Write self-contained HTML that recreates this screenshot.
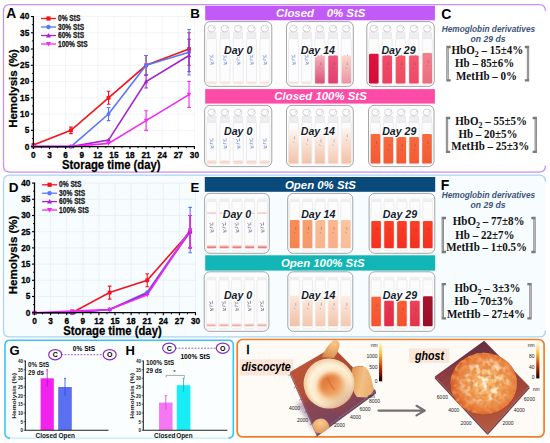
<!DOCTYPE html>
<html><head><meta charset="utf-8"><title>Figure</title>
<style>
html,body{margin:0;padding:0;background:#fff;}
#root{position:relative;width:550px;height:443px;overflow:hidden;background:#fff;font-family:"Liberation Sans",sans-serif;}
</style></head><body><div id="root">
<svg width="550" height="443" viewBox="0 0 550 443" style="position:absolute;left:0;top:0">
<defs><linearGradient id="gfc3e24f43020" x1="0" y1="0" x2="0" y2="1"><stop offset="0" stop-color="#fc3e24"/><stop offset="1" stop-color="#f43020"/></linearGradient><linearGradient id="gf9a070f79868" x1="0" y1="0" x2="0" y2="1"><stop offset="0" stop-color="#f9a070"/><stop offset="1" stop-color="#f79868"/></linearGradient><linearGradient id="gfceceaf0948c" x1="0" y1="0" x2="0" y2="1"><stop offset="0" stop-color="#fcecea"/><stop offset="1" stop-color="#f0948c"/></linearGradient><linearGradient id="gfbe8dcf2c0a8" x1="0" y1="0" x2="0" y2="1"><stop offset="0" stop-color="#fbe8dc"/><stop offset="1" stop-color="#f2c0a8"/></linearGradient><linearGradient id="gfdf6f2f4c8b0" x1="0" y1="0" x2="0" y2="1"><stop offset="0" stop-color="#fdf6f2"/><stop offset="1" stop-color="#f4c8b0"/></linearGradient><linearGradient id="gee4058e4344c" x1="0" y1="0" x2="0" y2="1"><stop offset="0" stop-color="#ee4058"/><stop offset="1" stop-color="#e4344c"/></linearGradient><linearGradient id="gfc6238f45430" x1="0" y1="0" x2="0" y2="1"><stop offset="0" stop-color="#fc6238"/><stop offset="1" stop-color="#f45430"/></linearGradient><linearGradient id="gea3850e02c44" x1="0" y1="0" x2="0" y2="1"><stop offset="0" stop-color="#ea3850"/><stop offset="1" stop-color="#e02c44"/></linearGradient><linearGradient id="ga8122e980c28" x1="0" y1="0" x2="0" y2="1"><stop offset="0" stop-color="#a8122e"/><stop offset="1" stop-color="#980c28"/></linearGradient><linearGradient id="gfbe4e2e25a5a" x1="0" y1="0" x2="0" y2="1"><stop offset="0" stop-color="#fbe4e2"/><stop offset="1" stop-color="#e25a5a"/></linearGradient><linearGradient id="gf45868ec4c60" x1="0" y1="0" x2="0" y2="1"><stop offset="0" stop-color="#f45868"/><stop offset="1" stop-color="#ec4c60"/></linearGradient><linearGradient id="gfbb690f9ae88" x1="0" y1="0" x2="0" y2="1"><stop offset="0" stop-color="#fbb690"/><stop offset="1" stop-color="#f9ae88"/></linearGradient><linearGradient id="gf4b4bcdc5074" x1="0" y1="0" x2="0" y2="1"><stop offset="0" stop-color="#f4b4bc"/><stop offset="1" stop-color="#dc5074"/></linearGradient><linearGradient id="gfa6a3ef25a32" x1="0" y1="0" x2="0" y2="1"><stop offset="0" stop-color="#fa6a3e"/><stop offset="1" stop-color="#f25a32"/></linearGradient><linearGradient id="gfbbc94f9b48c" x1="0" y1="0" x2="0" y2="1"><stop offset="0" stop-color="#fbbc94"/><stop offset="1" stop-color="#f9b48c"/></linearGradient><linearGradient id="gfcefe6f4c8b2" x1="0" y1="0" x2="0" y2="1"><stop offset="0" stop-color="#fcefe6"/><stop offset="1" stop-color="#f4c8b2"/></linearGradient><linearGradient id="gfdf6f2f3c0a6" x1="0" y1="0" x2="0" y2="1"><stop offset="0" stop-color="#fdf6f2"/><stop offset="1" stop-color="#f3c0a6"/></linearGradient><linearGradient id="gf44a6aec3e60" x1="0" y1="0" x2="0" y2="1"><stop offset="0" stop-color="#f44a6a"/><stop offset="1" stop-color="#ec3e60"/></linearGradient><linearGradient id="gec5a7ee04070" x1="0" y1="0" x2="0" y2="1"><stop offset="0" stop-color="#ec5a7e"/><stop offset="1" stop-color="#e04070"/></linearGradient><linearGradient id="gfdf6f2f3c2a8" x1="0" y1="0" x2="0" y2="1"><stop offset="0" stop-color="#fdf6f2"/><stop offset="1" stop-color="#f3c2a8"/></linearGradient><linearGradient id="gfbebe0f2c2aa" x1="0" y1="0" x2="0" y2="1"><stop offset="0" stop-color="#fbebe0"/><stop offset="1" stop-color="#f2c2aa"/></linearGradient><linearGradient id="gfcc4a0fabc98" x1="0" y1="0" x2="0" y2="1"><stop offset="0" stop-color="#fcc4a0"/><stop offset="1" stop-color="#fabc98"/></linearGradient><linearGradient id="gf98c58f68650" x1="0" y1="0" x2="0" y2="1"><stop offset="0" stop-color="#f98c58"/><stop offset="1" stop-color="#f68650"/></linearGradient><linearGradient id="gfcefe6f4cab4" x1="0" y1="0" x2="0" y2="1"><stop offset="0" stop-color="#fcefe6"/><stop offset="1" stop-color="#f4cab4"/></linearGradient><linearGradient id="gf45670ec4a66" x1="0" y1="0" x2="0" y2="1"><stop offset="0" stop-color="#f45670"/><stop offset="1" stop-color="#ec4a66"/></linearGradient><linearGradient id="ge0123ed40c38" x1="0" y1="0" x2="0" y2="1"><stop offset="0" stop-color="#e0123e"/><stop offset="1" stop-color="#d40c38"/></linearGradient><linearGradient id="gfc5e34f4502c" x1="0" y1="0" x2="0" y2="1"><stop offset="0" stop-color="#fc5e34"/><stop offset="1" stop-color="#f4502c"/></linearGradient><linearGradient id="gfbebe0f4c6ae" x1="0" y1="0" x2="0" y2="1"><stop offset="0" stop-color="#fbebe0"/><stop offset="1" stop-color="#f4c6ae"/></linearGradient><linearGradient id="gfad8cce896a6" x1="0" y1="0" x2="0" y2="1"><stop offset="0" stop-color="#fad8cc"/><stop offset="1" stop-color="#e896a6"/></linearGradient><linearGradient id="gfdf6f2f2bea4" x1="0" y1="0" x2="0" y2="1"><stop offset="0" stop-color="#fdf6f2"/><stop offset="1" stop-color="#f2bea4"/></linearGradient><linearGradient id="gf4808eec6e7e" x1="0" y1="0" x2="0" y2="1"><stop offset="0" stop-color="#f4808e"/><stop offset="1" stop-color="#ec6e7e"/></linearGradient><linearGradient id="gsurf" x1="0" y1="0.2" x2="0.8" y2="1"><stop offset="0" stop-color="#c05838"/><stop offset="0.45" stop-color="#a84838"/><stop offset="0.75" stop-color="#804458"/><stop offset="1" stop-color="#5a3c5a"/></linearGradient><radialGradient id="gspike" cx="0.7" cy="0.2" r="0.9"><stop offset="0" stop-color="#f6c888"/><stop offset="1" stop-color="#d88a48"/></radialGradient><linearGradient id="gcellR" x1="0" y1="0" x2="1" y2="0.3"><stop offset="0" stop-color="#e2924e"/><stop offset="0.55" stop-color="#f2c084"/><stop offset="1" stop-color="#eab070"/></linearGradient><radialGradient id="gcellB" cx="0.5" cy="0.3" r="0.8"><stop offset="0" stop-color="#f8cc90"/><stop offset="1" stop-color="#dc9050"/></radialGradient><linearGradient id="gshade" x1="0.15" y1="0.1" x2="0.85" y2="0.95"><stop offset="0" stop-color="#fffcf4" stop-opacity="0.45"/><stop offset="0.45" stop-color="#fff" stop-opacity="0"/><stop offset="0.7" stop-color="#c07040" stop-opacity="0.1"/><stop offset="1" stop-color="#a05028" stop-opacity="0.45"/></linearGradient><filter id="speckD" x="0" y="0" width="100%" height="100%"><feTurbulence type="fractalNoise" baseFrequency="0.2" numOctaves="2" seed="11" result="n"/><feColorMatrix in="n" type="matrix" values="0 0 0 0 0.80  0 0 0 0 0.26  0 0 0 0 0.06  3.8 0 0 0 -1.55" result="dk"/><feComposite in="dk" in2="SourceGraphic" operator="in"/></filter><filter id="speckL" x="0" y="0" width="100%" height="100%"><feTurbulence type="fractalNoise" baseFrequency="0.17" numOctaves="2" seed="5" result="n"/><feColorMatrix in="n" type="matrix" values="0 0 0 0 1  0 0 0 0 0.96  0 0 0 0 0.80  0 3.4 0 0 -1.5" result="lt"/><feComposite in="lt" in2="SourceGraphic" operator="in"/></filter><radialGradient id="gfade" cx="0.5" cy="0.5" r="0.5"><stop offset="0" stop-color="#fff" stop-opacity="1"/><stop offset="0.6" stop-color="#fff" stop-opacity="0.8"/><stop offset="1" stop-color="#fff" stop-opacity="0"/></radialGradient><linearGradient id="gsurf2" x1="0.2" y1="0" x2="0.4" y2="1"><stop offset="0" stop-color="#5a2a44"/><stop offset="0.35" stop-color="#8a3c40"/><stop offset="0.7" stop-color="#a84a38"/><stop offset="1" stop-color="#b45a40"/></linearGradient><radialGradient id="gdonut" cx="0.54" cy="0.54" r="0.52"><stop offset="0" stop-color="#e88a48"/><stop offset="0.26" stop-color="#eea262"/><stop offset="0.44" stop-color="#f6c890"/><stop offset="0.6" stop-color="#fce4c0"/><stop offset="0.78" stop-color="#fdf0d8"/><stop offset="0.9" stop-color="#f8dcb0"/><stop offset="1" stop-color="#ecbe86"/></radialGradient><radialGradient id="gpit" cx="0.45" cy="0.45" r="0.6"><stop offset="0" stop-color="#e4763a"/><stop offset="0.6" stop-color="#ec9a58" stop-opacity="0.6"/><stop offset="1" stop-color="#f4b878" stop-opacity="0"/></radialGradient><radialGradient id="gcell2" cx="0.4" cy="0.3" r="0.8"><stop offset="0" stop-color="#f8d09a"/><stop offset="1" stop-color="#d88040"/></radialGradient><radialGradient id="gghost" cx="0.55" cy="0.5" r="0.55"><stop offset="0" stop-color="#f8c676"/><stop offset="0.45" stop-color="#f2a052"/><stop offset="0.8" stop-color="#e87838"/><stop offset="1" stop-color="#d05828"/></radialGradient><filter id="blur2" x="-30%" y="-30%" width="160%" height="160%"><feGaussianBlur stdDeviation="2.2"/></filter><filter id="blur1" x="-30%" y="-30%" width="160%" height="160%"><feGaussianBlur stdDeviation="0.7"/></filter><linearGradient id="gbowl" x1="0.1" y1="0.1" x2="0.9" y2="0.9"><stop offset="0" stop-color="#d86830"/><stop offset="0.45" stop-color="#e88444" stop-opacity="0.8"/><stop offset="1" stop-color="#f4b070" stop-opacity="0"/></linearGradient><linearGradient id="gcbar" x1="0" y1="0" x2="0" y2="1"><stop offset="0" stop-color="#fffbe0"/><stop offset="0.3" stop-color="#f8c040"/><stop offset="0.65" stop-color="#c03008"/><stop offset="1" stop-color="#100000"/></linearGradient></defs>
<path d="M10.0,175.2 L539.0,175.2 Q545.5,175.2 545.5,181.7 L545.5,330.4 Q545.5,336.9 539.0,336.9 L10.0,336.9 Q3.5,336.9 3.5,330.4 L3.5,181.7 Q3.5,175.2 10.0,175.2Z" fill="#f7fcff"/>
<path d="M545.5,181.7 Q545.5,175.2 539.0,175.2 L10.0,175.2 Q3.5,175.2 3.5,181.7 L3.5,330.4 Q3.5,336.9 10.0,336.9 L539.0,336.9 Q545.5,336.9 545.5,330.4" fill="none" stroke="#acd4f0" stroke-width="1.3"/>
<path d="M545.5,11.1 Q545.5,4.6 539.0,4.6 L10.0,4.6 Q3.5,4.6 3.5,11.1 L3.5,165.6 Q3.5,172.1 10.0,172.1 L539.0,172.1 Q545.5,172.1 545.5,165.6" fill="none" stroke="#c890f6" stroke-width="1.3"/>
<rect x="5.0" y="340.3" width="228.3" height="97.8" rx="5" fill="#fbfeff" stroke="none"/>
<path d="M10,438.1 Q5,438.1 5,433.1 L5,345.3 Q5,340.3 10,340.3 L228.3,340.3 Q233.3,340.3 233.3,345.3 L233.3,433.1 Q233.3,438.1 228.3,438.1" fill="none" stroke="#3cc4f4" stroke-width="1.6"/>
<path d="M10,438.1 L228.3,438.1" fill="none" stroke="#bdeef6" stroke-width="1.2"/>
<rect x="237.2" y="339.5" width="306.9" height="97.4" rx="5.5" fill="#fefbf7" stroke="#f47e26" stroke-width="1.7"/>
<text x="6.30" y="18.00" font-size="13.8" font-weight="bold" font-style="normal" text-anchor="start" fill="#000" font-family='"Liberation Sans", sans-serif' >A</text>
<line x1="49.50" y1="16.50" x2="49.50" y2="146.60" stroke="#f0f1f6" stroke-width="0.8"/>
<line x1="65.60" y1="16.50" x2="65.60" y2="146.60" stroke="#f0f1f6" stroke-width="0.8"/>
<line x1="81.70" y1="16.50" x2="81.70" y2="146.60" stroke="#f0f1f6" stroke-width="0.8"/>
<line x1="97.80" y1="16.50" x2="97.80" y2="146.60" stroke="#f0f1f6" stroke-width="0.8"/>
<line x1="113.91" y1="16.50" x2="113.91" y2="146.60" stroke="#f0f1f6" stroke-width="0.8"/>
<line x1="130.01" y1="16.50" x2="130.01" y2="146.60" stroke="#f0f1f6" stroke-width="0.8"/>
<line x1="146.11" y1="16.50" x2="146.11" y2="146.60" stroke="#f0f1f6" stroke-width="0.8"/>
<line x1="162.21" y1="16.50" x2="162.21" y2="146.60" stroke="#f0f1f6" stroke-width="0.8"/>
<line x1="178.31" y1="16.50" x2="178.31" y2="146.60" stroke="#f0f1f6" stroke-width="0.8"/>
<line x1="194.41" y1="16.50" x2="194.41" y2="146.60" stroke="#f0f1f6" stroke-width="0.8"/>
<line x1="33.40" y1="130.34" x2="194.41" y2="130.34" stroke="#f0f1f6" stroke-width="0.8"/>
<line x1="33.40" y1="114.07" x2="194.41" y2="114.07" stroke="#f0f1f6" stroke-width="0.8"/>
<line x1="33.40" y1="97.81" x2="194.41" y2="97.81" stroke="#f0f1f6" stroke-width="0.8"/>
<line x1="33.40" y1="81.55" x2="194.41" y2="81.55" stroke="#f0f1f6" stroke-width="0.8"/>
<line x1="33.40" y1="65.29" x2="194.41" y2="65.29" stroke="#f0f1f6" stroke-width="0.8"/>
<line x1="33.40" y1="49.02" x2="194.41" y2="49.02" stroke="#f0f1f6" stroke-width="0.8"/>
<line x1="33.40" y1="32.76" x2="194.41" y2="32.76" stroke="#f0f1f6" stroke-width="0.8"/>
<line x1="33.40" y1="16.50" x2="194.41" y2="16.50" stroke="#f0f1f6" stroke-width="0.8"/>
<path d="M33.40,144.97 L70.97,130.34 L108.54,97.81 L146.11,65.29 L189.04,49.02" fill="none" stroke="#f5141e" stroke-width="1.6"/>
<path d="M33.40,146.60 L70.97,146.60 L108.54,114.07 L146.11,65.29 L189.04,52.28" fill="none" stroke="#5878f8" stroke-width="1.6"/>
<path d="M33.40,146.60 L70.97,146.60 L108.54,140.09 L146.11,81.55 L189.04,55.53" fill="none" stroke="#a522d2" stroke-width="1.6"/>
<path d="M33.40,146.60 L70.97,146.60 L108.54,143.35 L146.11,120.58 L189.04,94.56" fill="none" stroke="#f528f0" stroke-width="1.6"/>
<rect x="31.50" y="143.07" width="3.80" height="3.80" fill="#f5141e"/>
<path d="M70.97,133.59 L70.97,127.08 M69.17,133.59 L72.77,133.59 M69.17,127.08 L72.77,127.08" stroke="#f5141e" stroke-width="1.1" fill="none"/>
<rect x="69.07" y="128.44" width="3.80" height="3.80" fill="#f5141e"/>
<path d="M108.54,104.32 L108.54,91.31 M106.74,104.32 L110.34,104.32 M106.74,91.31 L110.34,91.31" stroke="#f5141e" stroke-width="1.1" fill="none"/>
<rect x="106.64" y="95.91" width="3.80" height="3.80" fill="#f5141e"/>
<path d="M146.11,75.05 L146.11,55.53 M144.31,75.05 L147.91,75.05 M144.31,55.53 L147.91,55.53" stroke="#f5141e" stroke-width="1.1" fill="none"/>
<rect x="144.21" y="63.39" width="3.80" height="3.80" fill="#f5141e"/>
<path d="M189.04,65.29 L189.04,32.76 M187.24,65.29 L190.84,65.29 M187.24,32.76 L190.84,32.76" stroke="#f5141e" stroke-width="1.1" fill="none"/>
<rect x="187.14" y="47.12" width="3.80" height="3.80" fill="#f5141e"/>
<circle cx="33.40" cy="146.60" r="1.99" fill="#5878f8"/>
<circle cx="70.97" cy="146.60" r="1.99" fill="#5878f8"/>
<path d="M108.54,120.58 L108.54,107.57 M106.74,120.58 L110.34,120.58 M106.74,107.57 L110.34,107.57" stroke="#5878f8" stroke-width="1.1" fill="none"/>
<circle cx="108.54" cy="114.07" r="1.99" fill="#5878f8"/>
<path d="M146.11,75.05 L146.11,55.53 M144.31,75.05 L147.91,75.05 M144.31,55.53 L147.91,55.53" stroke="#5878f8" stroke-width="1.1" fill="none"/>
<circle cx="146.11" cy="65.29" r="1.99" fill="#5878f8"/>
<path d="M189.04,75.05 L189.04,29.51 M187.24,75.05 L190.84,75.05 M187.24,29.51 L190.84,29.51" stroke="#5878f8" stroke-width="1.1" fill="none"/>
<circle cx="189.04" cy="52.28" r="1.99" fill="#5878f8"/>
<path d="M33.40,144.32 L35.68,148.31 L31.12,148.31Z" fill="#a522d2"/>
<path d="M70.97,144.32 L73.25,148.31 L68.69,148.31Z" fill="#a522d2"/>
<path d="M108.54,137.81 L110.82,141.81 L106.26,141.81Z" fill="#a522d2"/>
<path d="M146.11,88.05 L146.11,75.05 M144.31,88.05 L147.91,88.05 M144.31,75.05 L147.91,75.05" stroke="#a522d2" stroke-width="1.1" fill="none"/>
<path d="M146.11,79.27 L148.39,83.26 L143.83,83.26Z" fill="#a522d2"/>
<path d="M189.04,71.79 L189.04,39.27 M187.24,71.79 L190.84,71.79 M187.24,39.27 L190.84,39.27" stroke="#a522d2" stroke-width="1.1" fill="none"/>
<path d="M189.04,53.25 L191.32,57.24 L186.76,57.24Z" fill="#a522d2"/>
<path d="M33.40,148.88 L35.68,144.89 L31.12,144.89Z" fill="#f528f0"/>
<path d="M70.97,148.88 L73.25,144.89 L68.69,144.89Z" fill="#f528f0"/>
<path d="M108.54,145.63 L110.82,141.64 L106.26,141.64Z" fill="#f528f0"/>
<path d="M146.11,130.34 L146.11,110.82 M144.31,130.34 L147.91,130.34 M144.31,110.82 L147.91,110.82" stroke="#f528f0" stroke-width="1.1" fill="none"/>
<path d="M146.11,122.86 L148.39,118.87 L143.83,118.87Z" fill="#f528f0"/>
<path d="M189.04,107.57 L189.04,81.55 M187.24,107.57 L190.84,107.57 M187.24,81.55 L190.84,81.55" stroke="#f528f0" stroke-width="1.1" fill="none"/>
<path d="M189.04,96.84 L191.32,92.85 L186.76,92.85Z" fill="#f528f0"/>
<path d="M33.40,16.00 L33.40,146.60 L194.91,146.60" fill="none" stroke="#000" stroke-width="1.25"/>
<line x1="30.90" y1="146.60" x2="33.40" y2="146.60" stroke="#000" stroke-width="1.1"/>
<text transform="translate(29.30,149.50) scale(0.9,1.08)" font-size="9.2" font-weight="bold" text-anchor="end" fill="#000" font-family='"Liberation Sans", sans-serif' stroke="#000" stroke-width="0.3">0</text>
<line x1="30.90" y1="130.34" x2="33.40" y2="130.34" stroke="#000" stroke-width="1.1"/>
<text transform="translate(29.30,133.24) scale(0.9,1.08)" font-size="9.2" font-weight="bold" text-anchor="end" fill="#000" font-family='"Liberation Sans", sans-serif' stroke="#000" stroke-width="0.3">5</text>
<line x1="30.90" y1="114.07" x2="33.40" y2="114.07" stroke="#000" stroke-width="1.1"/>
<text transform="translate(29.30,116.97) scale(0.9,1.08)" font-size="9.2" font-weight="bold" text-anchor="end" fill="#000" font-family='"Liberation Sans", sans-serif' stroke="#000" stroke-width="0.3">10</text>
<line x1="30.90" y1="97.81" x2="33.40" y2="97.81" stroke="#000" stroke-width="1.1"/>
<text transform="translate(29.30,100.71) scale(0.9,1.08)" font-size="9.2" font-weight="bold" text-anchor="end" fill="#000" font-family='"Liberation Sans", sans-serif' stroke="#000" stroke-width="0.3">15</text>
<line x1="30.90" y1="81.55" x2="33.40" y2="81.55" stroke="#000" stroke-width="1.1"/>
<text transform="translate(29.30,84.45) scale(0.9,1.08)" font-size="9.2" font-weight="bold" text-anchor="end" fill="#000" font-family='"Liberation Sans", sans-serif' stroke="#000" stroke-width="0.3">20</text>
<line x1="30.90" y1="65.29" x2="33.40" y2="65.29" stroke="#000" stroke-width="1.1"/>
<text transform="translate(29.30,68.19) scale(0.9,1.08)" font-size="9.2" font-weight="bold" text-anchor="end" fill="#000" font-family='"Liberation Sans", sans-serif' stroke="#000" stroke-width="0.3">25</text>
<line x1="30.90" y1="49.02" x2="33.40" y2="49.02" stroke="#000" stroke-width="1.1"/>
<text transform="translate(29.30,51.92) scale(0.9,1.08)" font-size="9.2" font-weight="bold" text-anchor="end" fill="#000" font-family='"Liberation Sans", sans-serif' stroke="#000" stroke-width="0.3">30</text>
<line x1="30.90" y1="32.76" x2="33.40" y2="32.76" stroke="#000" stroke-width="1.1"/>
<text transform="translate(29.30,35.66) scale(0.9,1.08)" font-size="9.2" font-weight="bold" text-anchor="end" fill="#000" font-family='"Liberation Sans", sans-serif' stroke="#000" stroke-width="0.3">35</text>
<line x1="30.90" y1="16.50" x2="33.40" y2="16.50" stroke="#000" stroke-width="1.1"/>
<text transform="translate(29.30,19.40) scale(0.9,1.08)" font-size="9.2" font-weight="bold" text-anchor="end" fill="#000" font-family='"Liberation Sans", sans-serif' stroke="#000" stroke-width="0.3">40</text>
<line x1="31.90" y1="138.47" x2="33.40" y2="138.47" stroke="#000" stroke-width="0.9"/>
<line x1="31.90" y1="122.21" x2="33.40" y2="122.21" stroke="#000" stroke-width="0.9"/>
<line x1="31.90" y1="105.94" x2="33.40" y2="105.94" stroke="#000" stroke-width="0.9"/>
<line x1="31.90" y1="89.68" x2="33.40" y2="89.68" stroke="#000" stroke-width="0.9"/>
<line x1="31.90" y1="73.42" x2="33.40" y2="73.42" stroke="#000" stroke-width="0.9"/>
<line x1="31.90" y1="57.16" x2="33.40" y2="57.16" stroke="#000" stroke-width="0.9"/>
<line x1="31.90" y1="40.89" x2="33.40" y2="40.89" stroke="#000" stroke-width="0.9"/>
<line x1="31.90" y1="24.63" x2="33.40" y2="24.63" stroke="#000" stroke-width="0.9"/>
<line x1="33.40" y1="146.60" x2="33.40" y2="149.10" stroke="#000" stroke-width="1.1"/>
<text transform="translate(33.40,157.50) scale(0.9,1.08)" font-size="9.2" font-weight="bold" text-anchor="middle" fill="#000" font-family='"Liberation Sans", sans-serif' stroke="#000" stroke-width="0.3">0</text>
<line x1="49.50" y1="146.60" x2="49.50" y2="149.10" stroke="#000" stroke-width="1.1"/>
<text transform="translate(49.50,157.50) scale(0.9,1.08)" font-size="9.2" font-weight="bold" text-anchor="middle" fill="#000" font-family='"Liberation Sans", sans-serif' stroke="#000" stroke-width="0.3">3</text>
<line x1="65.60" y1="146.60" x2="65.60" y2="149.10" stroke="#000" stroke-width="1.1"/>
<text transform="translate(65.60,157.50) scale(0.9,1.08)" font-size="9.2" font-weight="bold" text-anchor="middle" fill="#000" font-family='"Liberation Sans", sans-serif' stroke="#000" stroke-width="0.3">6</text>
<line x1="81.70" y1="146.60" x2="81.70" y2="149.10" stroke="#000" stroke-width="1.1"/>
<text transform="translate(81.70,157.50) scale(0.9,1.08)" font-size="9.2" font-weight="bold" text-anchor="middle" fill="#000" font-family='"Liberation Sans", sans-serif' stroke="#000" stroke-width="0.3">9</text>
<line x1="97.80" y1="146.60" x2="97.80" y2="149.10" stroke="#000" stroke-width="1.1"/>
<text transform="translate(97.80,157.50) scale(0.9,1.08)" font-size="9.2" font-weight="bold" text-anchor="middle" fill="#000" font-family='"Liberation Sans", sans-serif' stroke="#000" stroke-width="0.3">12</text>
<line x1="113.91" y1="146.60" x2="113.91" y2="149.10" stroke="#000" stroke-width="1.1"/>
<text transform="translate(113.91,157.50) scale(0.9,1.08)" font-size="9.2" font-weight="bold" text-anchor="middle" fill="#000" font-family='"Liberation Sans", sans-serif' stroke="#000" stroke-width="0.3">15</text>
<line x1="130.01" y1="146.60" x2="130.01" y2="149.10" stroke="#000" stroke-width="1.1"/>
<text transform="translate(130.01,157.50) scale(0.9,1.08)" font-size="9.2" font-weight="bold" text-anchor="middle" fill="#000" font-family='"Liberation Sans", sans-serif' stroke="#000" stroke-width="0.3">18</text>
<line x1="146.11" y1="146.60" x2="146.11" y2="149.10" stroke="#000" stroke-width="1.1"/>
<text transform="translate(146.11,157.50) scale(0.9,1.08)" font-size="9.2" font-weight="bold" text-anchor="middle" fill="#000" font-family='"Liberation Sans", sans-serif' stroke="#000" stroke-width="0.3">21</text>
<line x1="162.21" y1="146.60" x2="162.21" y2="149.10" stroke="#000" stroke-width="1.1"/>
<text transform="translate(162.21,157.50) scale(0.9,1.08)" font-size="9.2" font-weight="bold" text-anchor="middle" fill="#000" font-family='"Liberation Sans", sans-serif' stroke="#000" stroke-width="0.3">24</text>
<line x1="178.31" y1="146.60" x2="178.31" y2="149.10" stroke="#000" stroke-width="1.1"/>
<text transform="translate(178.31,157.50) scale(0.9,1.08)" font-size="9.2" font-weight="bold" text-anchor="middle" fill="#000" font-family='"Liberation Sans", sans-serif' stroke="#000" stroke-width="0.3">27</text>
<line x1="194.41" y1="146.60" x2="194.41" y2="149.10" stroke="#000" stroke-width="1.1"/>
<text transform="translate(194.41,157.50) scale(0.9,1.08)" font-size="9.2" font-weight="bold" text-anchor="middle" fill="#000" font-family='"Liberation Sans", sans-serif' stroke="#000" stroke-width="0.3">30</text>
<line x1="41.45" y1="146.60" x2="41.45" y2="148.20" stroke="#000" stroke-width="0.9"/>
<line x1="57.55" y1="146.60" x2="57.55" y2="148.20" stroke="#000" stroke-width="0.9"/>
<line x1="73.65" y1="146.60" x2="73.65" y2="148.20" stroke="#000" stroke-width="0.9"/>
<line x1="89.75" y1="146.60" x2="89.75" y2="148.20" stroke="#000" stroke-width="0.9"/>
<line x1="105.85" y1="146.60" x2="105.85" y2="148.20" stroke="#000" stroke-width="0.9"/>
<line x1="121.96" y1="146.60" x2="121.96" y2="148.20" stroke="#000" stroke-width="0.9"/>
<line x1="138.06" y1="146.60" x2="138.06" y2="148.20" stroke="#000" stroke-width="0.9"/>
<line x1="154.16" y1="146.60" x2="154.16" y2="148.20" stroke="#000" stroke-width="0.9"/>
<line x1="170.26" y1="146.60" x2="170.26" y2="148.20" stroke="#000" stroke-width="0.9"/>
<line x1="186.36" y1="146.60" x2="186.36" y2="148.20" stroke="#000" stroke-width="0.9"/>
<text transform="translate(111.31,168.50) scale(1.0,1.05)" font-size="11.3" font-weight="bold" text-anchor="middle" fill="#000" font-family='"Liberation Sans", sans-serif' stroke="#000" stroke-width="0.25">Storage time (day)</text>
<text transform="translate(16.80,88.55) rotate(-90)" x="0" y="0" font-size="11.5" font-weight="bold" text-anchor="middle" fill="#000" stroke="#000" stroke-width="0.25" font-family='"Liberation Sans", sans-serif'>Hemolysis (%)</text>
<line x1="41.00" y1="18.50" x2="56.00" y2="18.50" stroke="#f5141e" stroke-width="1.3"/>
<rect x="46.40" y="16.40" width="4.20" height="4.20" fill="#f5141e"/>
<text transform="translate(58.00,21.10) scale(0.88,1.1)" font-size="7.5" font-weight="bold" text-anchor="start" fill="#1a1a1a" font-family='"Liberation Sans", sans-serif' stroke="#1a1a1a" stroke-width="0.25">0% StS</text>
<line x1="41.00" y1="27.00" x2="56.00" y2="27.00" stroke="#5878f8" stroke-width="1.3"/>
<circle cx="48.50" cy="27.00" r="2.21" fill="#5878f8"/>
<text transform="translate(58.00,29.60) scale(0.88,1.1)" font-size="7.5" font-weight="bold" text-anchor="start" fill="#1a1a1a" font-family='"Liberation Sans", sans-serif' stroke="#1a1a1a" stroke-width="0.25">30% StS</text>
<line x1="41.00" y1="35.50" x2="56.00" y2="35.50" stroke="#a522d2" stroke-width="1.3"/>
<path d="M48.50,32.98 L51.02,37.39 L45.98,37.39Z" fill="#a522d2"/>
<text transform="translate(58.00,38.10) scale(0.88,1.1)" font-size="7.5" font-weight="bold" text-anchor="start" fill="#1a1a1a" font-family='"Liberation Sans", sans-serif' stroke="#1a1a1a" stroke-width="0.25">60% StS</text>
<line x1="41.00" y1="44.00" x2="56.00" y2="44.00" stroke="#f528f0" stroke-width="1.3"/>
<path d="M48.50,46.52 L51.02,42.11 L45.98,42.11Z" fill="#f528f0"/>
<text transform="translate(58.00,46.60) scale(0.88,1.1)" font-size="7.5" font-weight="bold" text-anchor="start" fill="#1a1a1a" font-family='"Liberation Sans", sans-serif' stroke="#1a1a1a" stroke-width="0.25">100% StS</text>
<text x="190.20" y="18.10" font-size="13.4" font-weight="bold" font-style="normal" text-anchor="start" fill="#000" font-family='"Liberation Sans", sans-serif' >B</text>
<text x="8.70" y="191.90" font-size="13.5" font-weight="bold" font-style="normal" text-anchor="start" fill="#000" font-family='"Liberation Sans", sans-serif' >D</text>
<line x1="50.60" y1="183.10" x2="50.60" y2="312.70" stroke="#e6eef6" stroke-width="0.8"/>
<line x1="66.70" y1="183.10" x2="66.70" y2="312.70" stroke="#e6eef6" stroke-width="0.8"/>
<line x1="82.80" y1="183.10" x2="82.80" y2="312.70" stroke="#e6eef6" stroke-width="0.8"/>
<line x1="98.90" y1="183.10" x2="98.90" y2="312.70" stroke="#e6eef6" stroke-width="0.8"/>
<line x1="115.00" y1="183.10" x2="115.00" y2="312.70" stroke="#e6eef6" stroke-width="0.8"/>
<line x1="131.11" y1="183.10" x2="131.11" y2="312.70" stroke="#e6eef6" stroke-width="0.8"/>
<line x1="147.21" y1="183.10" x2="147.21" y2="312.70" stroke="#e6eef6" stroke-width="0.8"/>
<line x1="163.31" y1="183.10" x2="163.31" y2="312.70" stroke="#e6eef6" stroke-width="0.8"/>
<line x1="179.41" y1="183.10" x2="179.41" y2="312.70" stroke="#e6eef6" stroke-width="0.8"/>
<line x1="195.51" y1="183.10" x2="195.51" y2="312.70" stroke="#e6eef6" stroke-width="0.8"/>
<line x1="34.50" y1="296.50" x2="195.51" y2="296.50" stroke="#e6eef6" stroke-width="0.8"/>
<line x1="34.50" y1="280.30" x2="195.51" y2="280.30" stroke="#e6eef6" stroke-width="0.8"/>
<line x1="34.50" y1="264.10" x2="195.51" y2="264.10" stroke="#e6eef6" stroke-width="0.8"/>
<line x1="34.50" y1="247.90" x2="195.51" y2="247.90" stroke="#e6eef6" stroke-width="0.8"/>
<line x1="34.50" y1="231.70" x2="195.51" y2="231.70" stroke="#e6eef6" stroke-width="0.8"/>
<line x1="34.50" y1="215.50" x2="195.51" y2="215.50" stroke="#e6eef6" stroke-width="0.8"/>
<line x1="34.50" y1="199.30" x2="195.51" y2="199.30" stroke="#e6eef6" stroke-width="0.8"/>
<line x1="34.50" y1="183.10" x2="195.51" y2="183.10" stroke="#e6eef6" stroke-width="0.8"/>
<path d="M34.50,312.70 L72.07,312.70 L109.64,292.61 L147.21,280.30 L190.14,231.70" fill="none" stroke="#f5141e" stroke-width="1.6"/>
<path d="M34.50,312.70 L72.07,312.70 L109.64,309.46 L147.21,292.29 L190.14,230.08" fill="none" stroke="#5878f8" stroke-width="1.6"/>
<path d="M34.50,312.70 L72.07,312.70 L109.64,309.46 L147.21,293.26 L190.14,231.70" fill="none" stroke="#a522d2" stroke-width="1.6"/>
<path d="M34.50,312.70 L72.07,311.08 L109.64,309.46 L147.21,294.88 L190.14,230.08" fill="none" stroke="#f528f0" stroke-width="1.6"/>
<rect x="32.60" y="310.80" width="3.80" height="3.80" fill="#f5141e"/>
<rect x="70.17" y="310.80" width="3.80" height="3.80" fill="#f5141e"/>
<path d="M109.64,299.09 L109.64,286.13 M107.84,299.09 L111.44,299.09 M107.84,286.13 L111.44,286.13" stroke="#f5141e" stroke-width="1.1" fill="none"/>
<rect x="107.74" y="290.71" width="3.80" height="3.80" fill="#f5141e"/>
<path d="M147.21,286.78 L147.21,273.82 M145.41,286.78 L149.01,286.78 M145.41,273.82 L149.01,273.82" stroke="#f5141e" stroke-width="1.1" fill="none"/>
<rect x="145.31" y="278.40" width="3.80" height="3.80" fill="#f5141e"/>
<path d="M190.14,247.90 L190.14,215.50 M188.34,247.90 L191.94,247.90 M188.34,215.50 L191.94,215.50" stroke="#f5141e" stroke-width="1.1" fill="none"/>
<rect x="188.24" y="229.80" width="3.80" height="3.80" fill="#f5141e"/>
<circle cx="34.50" cy="312.70" r="1.99" fill="#5878f8"/>
<circle cx="72.07" cy="312.70" r="1.99" fill="#5878f8"/>
<circle cx="109.64" cy="309.46" r="1.99" fill="#5878f8"/>
<circle cx="147.21" cy="292.29" r="1.99" fill="#5878f8"/>
<path d="M190.14,252.76 L190.14,207.40 M188.34,252.76 L191.94,252.76 M188.34,207.40 L191.94,207.40" stroke="#5878f8" stroke-width="1.1" fill="none"/>
<circle cx="190.14" cy="230.08" r="1.99" fill="#5878f8"/>
<path d="M34.50,310.42 L36.78,314.41 L32.22,314.41Z" fill="#a522d2"/>
<path d="M72.07,310.42 L74.35,314.41 L69.79,314.41Z" fill="#a522d2"/>
<path d="M109.64,307.18 L111.92,311.17 L107.36,311.17Z" fill="#a522d2"/>
<path d="M147.21,290.98 L149.49,294.97 L144.93,294.97Z" fill="#a522d2"/>
<path d="M190.14,247.90 L190.14,215.50 M188.34,247.90 L191.94,247.90 M188.34,215.50 L191.94,215.50" stroke="#a522d2" stroke-width="1.1" fill="none"/>
<path d="M190.14,229.42 L192.42,233.41 L187.86,233.41Z" fill="#a522d2"/>
<path d="M34.50,314.98 L36.78,310.99 L32.22,310.99Z" fill="#f528f0"/>
<path d="M72.07,313.36 L74.35,309.37 L69.79,309.37Z" fill="#f528f0"/>
<path d="M109.64,311.74 L111.92,307.75 L107.36,307.75Z" fill="#f528f0"/>
<path d="M147.21,297.16 L149.49,293.17 L144.93,293.17Z" fill="#f528f0"/>
<path d="M190.14,247.90 L190.14,215.50 M188.34,247.90 L191.94,247.90 M188.34,215.50 L191.94,215.50" stroke="#f528f0" stroke-width="1.1" fill="none"/>
<path d="M190.14,232.36 L192.42,228.37 L187.86,228.37Z" fill="#f528f0"/>
<path d="M34.50,182.60 L34.50,312.70 L196.01,312.70" fill="none" stroke="#000" stroke-width="1.25"/>
<line x1="32.00" y1="312.70" x2="34.50" y2="312.70" stroke="#000" stroke-width="1.1"/>
<text transform="translate(30.40,315.60) scale(0.9,1.08)" font-size="9.2" font-weight="bold" text-anchor="end" fill="#000" font-family='"Liberation Sans", sans-serif' stroke="#000" stroke-width="0.3">0</text>
<line x1="32.00" y1="296.50" x2="34.50" y2="296.50" stroke="#000" stroke-width="1.1"/>
<text transform="translate(30.40,299.40) scale(0.9,1.08)" font-size="9.2" font-weight="bold" text-anchor="end" fill="#000" font-family='"Liberation Sans", sans-serif' stroke="#000" stroke-width="0.3">5</text>
<line x1="32.00" y1="280.30" x2="34.50" y2="280.30" stroke="#000" stroke-width="1.1"/>
<text transform="translate(30.40,283.20) scale(0.9,1.08)" font-size="9.2" font-weight="bold" text-anchor="end" fill="#000" font-family='"Liberation Sans", sans-serif' stroke="#000" stroke-width="0.3">10</text>
<line x1="32.00" y1="264.10" x2="34.50" y2="264.10" stroke="#000" stroke-width="1.1"/>
<text transform="translate(30.40,267.00) scale(0.9,1.08)" font-size="9.2" font-weight="bold" text-anchor="end" fill="#000" font-family='"Liberation Sans", sans-serif' stroke="#000" stroke-width="0.3">15</text>
<line x1="32.00" y1="247.90" x2="34.50" y2="247.90" stroke="#000" stroke-width="1.1"/>
<text transform="translate(30.40,250.80) scale(0.9,1.08)" font-size="9.2" font-weight="bold" text-anchor="end" fill="#000" font-family='"Liberation Sans", sans-serif' stroke="#000" stroke-width="0.3">20</text>
<line x1="32.00" y1="231.70" x2="34.50" y2="231.70" stroke="#000" stroke-width="1.1"/>
<text transform="translate(30.40,234.60) scale(0.9,1.08)" font-size="9.2" font-weight="bold" text-anchor="end" fill="#000" font-family='"Liberation Sans", sans-serif' stroke="#000" stroke-width="0.3">25</text>
<line x1="32.00" y1="215.50" x2="34.50" y2="215.50" stroke="#000" stroke-width="1.1"/>
<text transform="translate(30.40,218.40) scale(0.9,1.08)" font-size="9.2" font-weight="bold" text-anchor="end" fill="#000" font-family='"Liberation Sans", sans-serif' stroke="#000" stroke-width="0.3">30</text>
<line x1="32.00" y1="199.30" x2="34.50" y2="199.30" stroke="#000" stroke-width="1.1"/>
<text transform="translate(30.40,202.20) scale(0.9,1.08)" font-size="9.2" font-weight="bold" text-anchor="end" fill="#000" font-family='"Liberation Sans", sans-serif' stroke="#000" stroke-width="0.3">35</text>
<line x1="32.00" y1="183.10" x2="34.50" y2="183.10" stroke="#000" stroke-width="1.1"/>
<text transform="translate(30.40,186.00) scale(0.9,1.08)" font-size="9.2" font-weight="bold" text-anchor="end" fill="#000" font-family='"Liberation Sans", sans-serif' stroke="#000" stroke-width="0.3">40</text>
<line x1="33.00" y1="304.60" x2="34.50" y2="304.60" stroke="#000" stroke-width="0.9"/>
<line x1="33.00" y1="288.40" x2="34.50" y2="288.40" stroke="#000" stroke-width="0.9"/>
<line x1="33.00" y1="272.20" x2="34.50" y2="272.20" stroke="#000" stroke-width="0.9"/>
<line x1="33.00" y1="256.00" x2="34.50" y2="256.00" stroke="#000" stroke-width="0.9"/>
<line x1="33.00" y1="239.80" x2="34.50" y2="239.80" stroke="#000" stroke-width="0.9"/>
<line x1="33.00" y1="223.60" x2="34.50" y2="223.60" stroke="#000" stroke-width="0.9"/>
<line x1="33.00" y1="207.40" x2="34.50" y2="207.40" stroke="#000" stroke-width="0.9"/>
<line x1="33.00" y1="191.20" x2="34.50" y2="191.20" stroke="#000" stroke-width="0.9"/>
<line x1="34.50" y1="312.70" x2="34.50" y2="315.20" stroke="#000" stroke-width="1.1"/>
<text transform="translate(34.50,323.60) scale(0.9,1.08)" font-size="9.2" font-weight="bold" text-anchor="middle" fill="#000" font-family='"Liberation Sans", sans-serif' stroke="#000" stroke-width="0.3">0</text>
<line x1="50.60" y1="312.70" x2="50.60" y2="315.20" stroke="#000" stroke-width="1.1"/>
<text transform="translate(50.60,323.60) scale(0.9,1.08)" font-size="9.2" font-weight="bold" text-anchor="middle" fill="#000" font-family='"Liberation Sans", sans-serif' stroke="#000" stroke-width="0.3">3</text>
<line x1="66.70" y1="312.70" x2="66.70" y2="315.20" stroke="#000" stroke-width="1.1"/>
<text transform="translate(66.70,323.60) scale(0.9,1.08)" font-size="9.2" font-weight="bold" text-anchor="middle" fill="#000" font-family='"Liberation Sans", sans-serif' stroke="#000" stroke-width="0.3">6</text>
<line x1="82.80" y1="312.70" x2="82.80" y2="315.20" stroke="#000" stroke-width="1.1"/>
<text transform="translate(82.80,323.60) scale(0.9,1.08)" font-size="9.2" font-weight="bold" text-anchor="middle" fill="#000" font-family='"Liberation Sans", sans-serif' stroke="#000" stroke-width="0.3">9</text>
<line x1="98.90" y1="312.70" x2="98.90" y2="315.20" stroke="#000" stroke-width="1.1"/>
<text transform="translate(98.90,323.60) scale(0.9,1.08)" font-size="9.2" font-weight="bold" text-anchor="middle" fill="#000" font-family='"Liberation Sans", sans-serif' stroke="#000" stroke-width="0.3">12</text>
<line x1="115.00" y1="312.70" x2="115.00" y2="315.20" stroke="#000" stroke-width="1.1"/>
<text transform="translate(115.00,323.60) scale(0.9,1.08)" font-size="9.2" font-weight="bold" text-anchor="middle" fill="#000" font-family='"Liberation Sans", sans-serif' stroke="#000" stroke-width="0.3">15</text>
<line x1="131.11" y1="312.70" x2="131.11" y2="315.20" stroke="#000" stroke-width="1.1"/>
<text transform="translate(131.11,323.60) scale(0.9,1.08)" font-size="9.2" font-weight="bold" text-anchor="middle" fill="#000" font-family='"Liberation Sans", sans-serif' stroke="#000" stroke-width="0.3">18</text>
<line x1="147.21" y1="312.70" x2="147.21" y2="315.20" stroke="#000" stroke-width="1.1"/>
<text transform="translate(147.21,323.60) scale(0.9,1.08)" font-size="9.2" font-weight="bold" text-anchor="middle" fill="#000" font-family='"Liberation Sans", sans-serif' stroke="#000" stroke-width="0.3">21</text>
<line x1="163.31" y1="312.70" x2="163.31" y2="315.20" stroke="#000" stroke-width="1.1"/>
<text transform="translate(163.31,323.60) scale(0.9,1.08)" font-size="9.2" font-weight="bold" text-anchor="middle" fill="#000" font-family='"Liberation Sans", sans-serif' stroke="#000" stroke-width="0.3">24</text>
<line x1="179.41" y1="312.70" x2="179.41" y2="315.20" stroke="#000" stroke-width="1.1"/>
<text transform="translate(179.41,323.60) scale(0.9,1.08)" font-size="9.2" font-weight="bold" text-anchor="middle" fill="#000" font-family='"Liberation Sans", sans-serif' stroke="#000" stroke-width="0.3">27</text>
<line x1="195.51" y1="312.70" x2="195.51" y2="315.20" stroke="#000" stroke-width="1.1"/>
<text transform="translate(195.51,323.60) scale(0.9,1.08)" font-size="9.2" font-weight="bold" text-anchor="middle" fill="#000" font-family='"Liberation Sans", sans-serif' stroke="#000" stroke-width="0.3">30</text>
<line x1="42.55" y1="312.70" x2="42.55" y2="314.30" stroke="#000" stroke-width="0.9"/>
<line x1="58.65" y1="312.70" x2="58.65" y2="314.30" stroke="#000" stroke-width="0.9"/>
<line x1="74.75" y1="312.70" x2="74.75" y2="314.30" stroke="#000" stroke-width="0.9"/>
<line x1="90.85" y1="312.70" x2="90.85" y2="314.30" stroke="#000" stroke-width="0.9"/>
<line x1="106.95" y1="312.70" x2="106.95" y2="314.30" stroke="#000" stroke-width="0.9"/>
<line x1="123.06" y1="312.70" x2="123.06" y2="314.30" stroke="#000" stroke-width="0.9"/>
<line x1="139.16" y1="312.70" x2="139.16" y2="314.30" stroke="#000" stroke-width="0.9"/>
<line x1="155.26" y1="312.70" x2="155.26" y2="314.30" stroke="#000" stroke-width="0.9"/>
<line x1="171.36" y1="312.70" x2="171.36" y2="314.30" stroke="#000" stroke-width="0.9"/>
<line x1="187.46" y1="312.70" x2="187.46" y2="314.30" stroke="#000" stroke-width="0.9"/>
<text transform="translate(112.41,334.60) scale(1.0,1.05)" font-size="11.3" font-weight="bold" text-anchor="middle" fill="#000" font-family='"Liberation Sans", sans-serif' stroke="#000" stroke-width="0.25">Storage time (day)</text>
<text transform="translate(16.80,254.90) rotate(-90)" x="0" y="0" font-size="11.5" font-weight="bold" text-anchor="middle" fill="#000" stroke="#000" stroke-width="0.25" font-family='"Liberation Sans", sans-serif'>Hemolysis (%)</text>
<line x1="42.10" y1="184.80" x2="57.10" y2="184.80" stroke="#f5141e" stroke-width="1.3"/>
<rect x="47.50" y="182.70" width="4.20" height="4.20" fill="#f5141e"/>
<text transform="translate(59.10,187.40) scale(0.88,1.1)" font-size="7.5" font-weight="bold" text-anchor="start" fill="#1a1a1a" font-family='"Liberation Sans", sans-serif' stroke="#1a1a1a" stroke-width="0.25">0% StS</text>
<line x1="42.10" y1="193.20" x2="57.10" y2="193.20" stroke="#5878f8" stroke-width="1.3"/>
<circle cx="49.60" cy="193.20" r="2.21" fill="#5878f8"/>
<text transform="translate(59.10,195.80) scale(0.88,1.1)" font-size="7.5" font-weight="bold" text-anchor="start" fill="#1a1a1a" font-family='"Liberation Sans", sans-serif' stroke="#1a1a1a" stroke-width="0.25">30% StS</text>
<line x1="42.10" y1="201.60" x2="57.10" y2="201.60" stroke="#a522d2" stroke-width="1.3"/>
<path d="M49.60,199.08 L52.12,203.49 L47.08,203.49Z" fill="#a522d2"/>
<text transform="translate(59.10,204.20) scale(0.88,1.1)" font-size="7.5" font-weight="bold" text-anchor="start" fill="#1a1a1a" font-family='"Liberation Sans", sans-serif' stroke="#1a1a1a" stroke-width="0.25">60% StS</text>
<line x1="42.10" y1="210.00" x2="57.10" y2="210.00" stroke="#f528f0" stroke-width="1.3"/>
<path d="M49.60,212.52 L52.12,208.11 L47.08,208.11Z" fill="#f528f0"/>
<text transform="translate(59.10,212.60) scale(0.88,1.1)" font-size="7.5" font-weight="bold" text-anchor="start" fill="#1a1a1a" font-family='"Liberation Sans", sans-serif' stroke="#1a1a1a" stroke-width="0.25">100% StS</text>
<text x="190.60" y="192.40" font-size="13.2" font-weight="bold" font-style="normal" text-anchor="start" fill="#000" font-family='"Liberation Sans", sans-serif' >E</text>
<rect x="205.20" y="5.80" width="229.70" height="14.50" fill="#c25af8"/>
<text x="276.00" y="17.15" font-size="11.4" font-weight="bold" font-style="italic" fill="#fff" font-family='"Liberation Sans", sans-serif'>Closed</text>
<text x="326.70" y="17.15" font-size="11.4" font-weight="bold" font-style="italic" fill="#fff" font-family='"Liberation Sans", sans-serif'>0% StS</text>
<rect x="204.60" y="21.60" width="67.20" height="64.80" rx="5.5" fill="#fdfdfd" stroke="#9a9a9a" stroke-width="0.9"/>
<ellipse cx="211.60" cy="28.60" rx="3.80" ry="3.3" fill="none" stroke="#c4c4c8" stroke-width="0.7"/>
<path d="M208.60,30.60 q2,3 4,2.5 M214.60,26.60 l-1.5,2.5" stroke="#b8b8bc" stroke-width="0.6" fill="none"/>
<rect x="207.10" y="32.60" width="9.00" height="6" fill="#eeeef0" stroke="#dcdce0" stroke-width="0.4"/>
<rect x="206.60" y="38.60" width="10.00" height="45.30" rx="1.2" fill="#fcfcfd" stroke="#e0e0e4" stroke-width="0.6"/>
<path d="M209.40,55.60 l2,1.2 l-1.2,1.8 M212.80,54.60 l0,3 M209.80,59.60 l3.2,0.6 M210.80,61.60 l1.6,2.4 l-2,0.4 M213.20,61.80 l0,2.6" stroke="#4a64c8" stroke-width="0.8" fill="none" opacity="0.7"/>
<rect x="207.10" y="81.40" width="9.00" height="2.00" fill="#f8e2da" rx="0.8"/>
<ellipse cx="224.90" cy="28.60" rx="3.80" ry="3.3" fill="none" stroke="#c4c4c8" stroke-width="0.7"/>
<path d="M221.90,30.60 q2,3 4,2.5 M227.90,26.60 l-1.5,2.5" stroke="#b8b8bc" stroke-width="0.6" fill="none"/>
<rect x="220.40" y="32.60" width="9.00" height="6" fill="#eeeef0" stroke="#dcdce0" stroke-width="0.4"/>
<rect x="219.90" y="38.60" width="10.00" height="45.30" rx="1.2" fill="#fcfcfd" stroke="#e0e0e4" stroke-width="0.6"/>
<path d="M222.70,55.60 l2,1.2 l-1.2,1.8 M226.10,54.60 l0,3 M223.10,59.60 l3.2,0.6 M224.10,61.60 l1.6,2.4 l-2,0.4 M226.50,61.80 l0,2.6" stroke="#4a64c8" stroke-width="0.8" fill="none" opacity="0.7"/>
<rect x="220.40" y="81.40" width="9.00" height="2.00" fill="#f8e2da" rx="0.8"/>
<ellipse cx="238.20" cy="28.60" rx="3.80" ry="3.3" fill="none" stroke="#c4c4c8" stroke-width="0.7"/>
<path d="M235.20,30.60 q2,3 4,2.5 M241.20,26.60 l-1.5,2.5" stroke="#b8b8bc" stroke-width="0.6" fill="none"/>
<rect x="233.70" y="32.60" width="9.00" height="6" fill="#eeeef0" stroke="#dcdce0" stroke-width="0.4"/>
<rect x="233.20" y="38.60" width="10.00" height="45.30" rx="1.2" fill="#fcfcfd" stroke="#e0e0e4" stroke-width="0.6"/>
<path d="M236.00,55.60 l2,1.2 l-1.2,1.8 M239.40,54.60 l0,3 M236.40,59.60 l3.2,0.6 M237.40,61.60 l1.6,2.4 l-2,0.4 M239.80,61.80 l0,2.6" stroke="#4a64c8" stroke-width="0.8" fill="none" opacity="0.7"/>
<rect x="233.70" y="81.40" width="9.00" height="2.00" fill="#f8e2da" rx="0.8"/>
<ellipse cx="251.50" cy="28.60" rx="3.80" ry="3.3" fill="none" stroke="#c4c4c8" stroke-width="0.7"/>
<path d="M248.50,30.60 q2,3 4,2.5 M254.50,26.60 l-1.5,2.5" stroke="#b8b8bc" stroke-width="0.6" fill="none"/>
<rect x="247.00" y="32.60" width="9.00" height="6" fill="#eeeef0" stroke="#dcdce0" stroke-width="0.4"/>
<rect x="246.50" y="38.60" width="10.00" height="45.30" rx="1.2" fill="#fcfcfd" stroke="#e0e0e4" stroke-width="0.6"/>
<path d="M249.30,55.60 l2,1.2 l-1.2,1.8 M252.70,54.60 l0,3 M249.70,59.60 l3.2,0.6 M250.70,61.60 l1.6,2.4 l-2,0.4 M253.10,61.80 l0,2.6" stroke="#4a64c8" stroke-width="0.8" fill="none" opacity="0.7"/>
<rect x="247.00" y="81.40" width="9.00" height="2.00" fill="#f8e2da" rx="0.8"/>
<ellipse cx="264.80" cy="28.60" rx="3.80" ry="3.3" fill="none" stroke="#c4c4c8" stroke-width="0.7"/>
<path d="M261.80,30.60 q2,3 4,2.5 M267.80,26.60 l-1.5,2.5" stroke="#b8b8bc" stroke-width="0.6" fill="none"/>
<rect x="260.30" y="32.60" width="9.00" height="6" fill="#eeeef0" stroke="#dcdce0" stroke-width="0.4"/>
<rect x="259.80" y="38.60" width="10.00" height="45.30" rx="1.2" fill="#fcfcfd" stroke="#e0e0e4" stroke-width="0.6"/>
<path d="M262.60,55.60 l2,1.2 l-1.2,1.8 M266.00,54.60 l0,3 M263.00,59.60 l3.2,0.6 M264.00,61.60 l1.6,2.4 l-2,0.4 M266.40,61.80 l0,2.6" stroke="#4a64c8" stroke-width="0.8" fill="none" opacity="0.7"/>
<rect x="260.30" y="81.40" width="9.00" height="2.00" fill="#f8e2da" rx="0.8"/>
<text x="238.20" y="53.60" font-size="10.6" font-weight="bold" font-style="italic" text-anchor="middle" fill="#141c2c" font-family='"Liberation Sans", sans-serif' stroke="#fff" stroke-width="2.4" stroke-opacity="0.85" paint-order="stroke">Day 0</text>
<rect x="286.50" y="21.60" width="66.80" height="64.80" rx="5.5" fill="#fdfdfd" stroke="#9a9a9a" stroke-width="0.9"/>
<ellipse cx="293.50" cy="28.60" rx="3.80" ry="3.3" fill="none" stroke="#c4c4c8" stroke-width="0.7"/>
<path d="M290.50,30.60 q2,3 4,2.5 M296.50,26.60 l-1.5,2.5" stroke="#b8b8bc" stroke-width="0.6" fill="none"/>
<rect x="289.00" y="32.60" width="9.00" height="6" fill="#eeeef0" stroke="#dcdce0" stroke-width="0.4"/>
<rect x="288.50" y="38.60" width="10.00" height="45.30" rx="1.2" fill="#fcfcfd" stroke="#e0e0e4" stroke-width="0.6"/>
<path d="M291.30,55.60 l2,1.2 l-1.2,1.8 M294.70,54.60 l0,3 M291.70,59.60 l3.2,0.6 M292.70,61.60 l1.6,2.4 l-2,0.4 M295.10,61.80 l0,2.6" stroke="#4a64c8" stroke-width="0.8" fill="none" opacity="0.7"/>
<rect x="289.00" y="81.40" width="9.00" height="2.00" fill="#f8e2da" rx="0.8"/>
<ellipse cx="306.70" cy="28.60" rx="3.80" ry="3.3" fill="none" stroke="#c4c4c8" stroke-width="0.7"/>
<path d="M303.70,30.60 q2,3 4,2.5 M309.70,26.60 l-1.5,2.5" stroke="#b8b8bc" stroke-width="0.6" fill="none"/>
<rect x="302.20" y="32.60" width="9.00" height="6" fill="#eeeef0" stroke="#dcdce0" stroke-width="0.4"/>
<rect x="301.70" y="38.60" width="10.00" height="45.30" rx="1.2" fill="#fcfcfd" stroke="#e0e0e4" stroke-width="0.6"/>
<path d="M304.50,55.60 l2,1.2 l-1.2,1.8 M307.90,54.60 l0,3 M304.90,59.60 l3.2,0.6 M305.90,61.60 l1.6,2.4 l-2,0.4 M308.30,61.80 l0,2.6" stroke="#4a64c8" stroke-width="0.8" fill="none" opacity="0.7"/>
<rect x="302.20" y="81.40" width="9.00" height="2.00" fill="#f8e2da" rx="0.8"/>
<ellipse cx="319.90" cy="28.60" rx="3.80" ry="3.3" fill="none" stroke="#c4c4c8" stroke-width="0.7"/>
<path d="M316.90,30.60 q2,3 4,2.5 M322.90,26.60 l-1.5,2.5" stroke="#b8b8bc" stroke-width="0.6" fill="none"/>
<rect x="315.40" y="32.60" width="9.00" height="6" fill="#eeeef0" stroke="#dcdce0" stroke-width="0.4"/>
<rect x="314.90" y="38.60" width="10.00" height="45.30" rx="1.2" fill="#fcfcfd" stroke="#e0e0e4" stroke-width="0.6"/>
<path d="M317.70,55.60 l2,1.2 l-1.2,1.8 M321.10,54.60 l0,3 M318.10,59.60 l3.2,0.6 M319.10,61.60 l1.6,2.4 l-2,0.4 M321.50,61.80 l0,2.6" stroke="#4a64c8" stroke-width="0.8" fill="none" opacity="0.7"/>
<rect x="315.10" y="55.40" width="9.60" height="28.00" fill="url(#gf4b4bcdc5074)" rx="1.2"/>
<path d="M320.90,62.40 l0,3 M319.40,67.40 l1.2,1.4" stroke="#404060" stroke-width="0.7" opacity="0.45"/>
<ellipse cx="333.10" cy="28.60" rx="3.80" ry="3.3" fill="none" stroke="#c4c4c8" stroke-width="0.7"/>
<path d="M330.10,30.60 q2,3 4,2.5 M336.10,26.60 l-1.5,2.5" stroke="#b8b8bc" stroke-width="0.6" fill="none"/>
<rect x="328.60" y="32.60" width="9.00" height="6" fill="#eeeef0" stroke="#dcdce0" stroke-width="0.4"/>
<rect x="328.10" y="38.60" width="10.00" height="45.30" rx="1.2" fill="#fcfcfd" stroke="#e0e0e4" stroke-width="0.6"/>
<path d="M330.90,55.60 l2,1.2 l-1.2,1.8 M334.30,54.60 l0,3 M331.30,59.60 l3.2,0.6 M332.30,61.60 l1.6,2.4 l-2,0.4 M334.70,61.80 l0,2.6" stroke="#4a64c8" stroke-width="0.8" fill="none" opacity="0.7"/>
<rect x="328.30" y="55.40" width="9.60" height="28.00" fill="url(#gec5a7ee04070)" rx="1.2"/>
<path d="M334.10,62.40 l0,3 M332.60,67.40 l1.2,1.4" stroke="#404060" stroke-width="0.7" opacity="0.45"/>
<ellipse cx="346.30" cy="28.60" rx="3.80" ry="3.3" fill="none" stroke="#c4c4c8" stroke-width="0.7"/>
<path d="M343.30,30.60 q2,3 4,2.5 M349.30,26.60 l-1.5,2.5" stroke="#b8b8bc" stroke-width="0.6" fill="none"/>
<rect x="341.80" y="32.60" width="9.00" height="6" fill="#eeeef0" stroke="#dcdce0" stroke-width="0.4"/>
<rect x="341.30" y="38.60" width="10.00" height="45.30" rx="1.2" fill="#fcfcfd" stroke="#e0e0e4" stroke-width="0.6"/>
<path d="M344.10,55.60 l2,1.2 l-1.2,1.8 M347.50,54.60 l0,3 M344.50,59.60 l3.2,0.6 M345.50,61.60 l1.6,2.4 l-2,0.4 M347.90,61.80 l0,2.6" stroke="#4a64c8" stroke-width="0.8" fill="none" opacity="0.7"/>
<rect x="341.50" y="55.40" width="9.60" height="28.00" fill="url(#gfad8cce896a6)" rx="1.2"/>
<path d="M347.30,62.40 l0,3 M345.80,67.40 l1.2,1.4" stroke="#404060" stroke-width="0.7" opacity="0.45"/>
<text x="317.90" y="53.60" font-size="10.6" font-weight="bold" font-style="italic" text-anchor="middle" fill="#141c2c" font-family='"Liberation Sans", sans-serif' stroke="#fff" stroke-width="2.4" stroke-opacity="0.85" paint-order="stroke">Day 14</text>
<rect x="366.80" y="21.60" width="67.50" height="64.80" rx="5.5" fill="#fdfdfd" stroke="#9a9a9a" stroke-width="0.9"/>
<ellipse cx="373.80" cy="28.60" rx="3.80" ry="3.3" fill="none" stroke="#c4c4c8" stroke-width="0.7"/>
<path d="M370.80,30.60 q2,3 4,2.5 M376.80,26.60 l-1.5,2.5" stroke="#b8b8bc" stroke-width="0.6" fill="none"/>
<rect x="369.30" y="32.60" width="9.00" height="6" fill="#eeeef0" stroke="#dcdce0" stroke-width="0.4"/>
<rect x="368.80" y="38.60" width="10.00" height="45.30" rx="1.2" fill="#fcfcfd" stroke="#e0e0e4" stroke-width="0.6"/>
<path d="M371.60,55.60 l2,1.2 l-1.2,1.8 M375.00,54.60 l0,3 M372.00,59.60 l3.2,0.6 M373.00,61.60 l1.6,2.4 l-2,0.4 M375.40,61.80 l0,2.6" stroke="#4a64c8" stroke-width="0.8" fill="none" opacity="0.7"/>
<rect x="369.00" y="53.80" width="9.60" height="29.60" fill="url(#ge0123ed40c38)" rx="1.2"/>
<path d="M374.80,60.80 l0,3 M373.30,65.80 l1.2,1.4" stroke="#404060" stroke-width="0.7" opacity="0.45"/>
<ellipse cx="387.18" cy="28.60" rx="3.80" ry="3.3" fill="none" stroke="#c4c4c8" stroke-width="0.7"/>
<path d="M384.18,30.60 q2,3 4,2.5 M390.18,26.60 l-1.5,2.5" stroke="#b8b8bc" stroke-width="0.6" fill="none"/>
<rect x="382.68" y="32.60" width="9.00" height="6" fill="#eeeef0" stroke="#dcdce0" stroke-width="0.4"/>
<rect x="382.18" y="38.60" width="10.00" height="45.30" rx="1.2" fill="#fcfcfd" stroke="#e0e0e4" stroke-width="0.6"/>
<path d="M384.98,55.60 l2,1.2 l-1.2,1.8 M388.38,54.60 l0,3 M385.38,59.60 l3.2,0.6 M386.38,61.60 l1.6,2.4 l-2,0.4 M388.78,61.80 l0,2.6" stroke="#4a64c8" stroke-width="0.8" fill="none" opacity="0.7"/>
<rect x="382.38" y="55.60" width="9.60" height="27.80" fill="url(#gf44a6aec3e60)" rx="1.2"/>
<path d="M388.18,62.60 l0,3 M386.68,67.60 l1.2,1.4" stroke="#404060" stroke-width="0.7" opacity="0.45"/>
<ellipse cx="400.55" cy="28.60" rx="3.80" ry="3.3" fill="none" stroke="#c4c4c8" stroke-width="0.7"/>
<path d="M397.55,30.60 q2,3 4,2.5 M403.55,26.60 l-1.5,2.5" stroke="#b8b8bc" stroke-width="0.6" fill="none"/>
<rect x="396.05" y="32.60" width="9.00" height="6" fill="#eeeef0" stroke="#dcdce0" stroke-width="0.4"/>
<rect x="395.55" y="38.60" width="10.00" height="45.30" rx="1.2" fill="#fcfcfd" stroke="#e0e0e4" stroke-width="0.6"/>
<path d="M398.35,55.60 l2,1.2 l-1.2,1.8 M401.75,54.60 l0,3 M398.75,59.60 l3.2,0.6 M399.75,61.60 l1.6,2.4 l-2,0.4 M402.15,61.80 l0,2.6" stroke="#4a64c8" stroke-width="0.8" fill="none" opacity="0.7"/>
<rect x="395.75" y="55.60" width="9.60" height="27.80" fill="url(#gf45868ec4c60)" rx="1.2"/>
<path d="M401.55,62.60 l0,3 M400.05,67.60 l1.2,1.4" stroke="#404060" stroke-width="0.7" opacity="0.45"/>
<ellipse cx="413.93" cy="28.60" rx="3.80" ry="3.3" fill="none" stroke="#c4c4c8" stroke-width="0.7"/>
<path d="M410.93,30.60 q2,3 4,2.5 M416.93,26.60 l-1.5,2.5" stroke="#b8b8bc" stroke-width="0.6" fill="none"/>
<rect x="409.43" y="32.60" width="9.00" height="6" fill="#eeeef0" stroke="#dcdce0" stroke-width="0.4"/>
<rect x="408.93" y="38.60" width="10.00" height="45.30" rx="1.2" fill="#fcfcfd" stroke="#e0e0e4" stroke-width="0.6"/>
<path d="M411.73,55.60 l2,1.2 l-1.2,1.8 M415.12,54.60 l0,3 M412.12,59.60 l3.2,0.6 M413.12,61.60 l1.6,2.4 l-2,0.4 M415.53,61.80 l0,2.6" stroke="#4a64c8" stroke-width="0.8" fill="none" opacity="0.7"/>
<rect x="409.12" y="55.60" width="9.60" height="27.80" fill="url(#gf45670ec4a66)" rx="1.2"/>
<path d="M414.93,62.60 l0,3 M413.43,67.60 l1.2,1.4" stroke="#404060" stroke-width="0.7" opacity="0.45"/>
<ellipse cx="427.30" cy="28.60" rx="3.80" ry="3.3" fill="none" stroke="#c4c4c8" stroke-width="0.7"/>
<path d="M424.30,30.60 q2,3 4,2.5 M430.30,26.60 l-1.5,2.5" stroke="#b8b8bc" stroke-width="0.6" fill="none"/>
<rect x="422.80" y="32.60" width="9.00" height="6" fill="#eeeef0" stroke="#dcdce0" stroke-width="0.4"/>
<rect x="422.30" y="38.60" width="10.00" height="45.30" rx="1.2" fill="#fcfcfd" stroke="#e0e0e4" stroke-width="0.6"/>
<path d="M425.10,55.60 l2,1.2 l-1.2,1.8 M428.50,54.60 l0,3 M425.50,59.60 l3.2,0.6 M426.50,61.60 l1.6,2.4 l-2,0.4 M428.90,61.80 l0,2.6" stroke="#4a64c8" stroke-width="0.8" fill="none" opacity="0.7"/>
<rect x="422.50" y="53.00" width="9.60" height="30.40" fill="url(#gf4808eec6e7e)" rx="1.2"/>
<path d="M428.30,60.00 l0,3 M426.80,65.00 l1.2,1.4" stroke="#404060" stroke-width="0.7" opacity="0.45"/>
<text x="398.55" y="53.60" font-size="10.6" font-weight="bold" font-style="italic" text-anchor="middle" fill="#141c2c" font-family='"Liberation Sans", sans-serif' stroke="#fff" stroke-width="2.4" stroke-opacity="0.85" paint-order="stroke">Day 29</text>
<rect x="205.20" y="89.10" width="229.70" height="14.50" fill="#fd4ca8"/>
<text x="274.30" y="100.45" font-size="11.4" font-weight="bold" font-style="italic" fill="#fff" font-family='"Liberation Sans", sans-serif'>Closed 100% StS</text>
<rect x="204.60" y="105.40" width="67.20" height="61.20" rx="5.5" fill="#fdfdfd" stroke="#9a9a9a" stroke-width="0.9"/>
<ellipse cx="211.60" cy="112.40" rx="3.80" ry="3.3" fill="none" stroke="#c4c4c8" stroke-width="0.7"/>
<path d="M208.60,114.40 q2,3 4,2.5 M214.60,110.40 l-1.5,2.5" stroke="#b8b8bc" stroke-width="0.6" fill="none"/>
<rect x="207.10" y="116.40" width="9.00" height="6" fill="#eeeef0" stroke="#dcdce0" stroke-width="0.4"/>
<rect x="206.60" y="122.40" width="10.00" height="41.70" rx="1.2" fill="#fcfcfd" stroke="#e0e0e4" stroke-width="0.6"/>
<path d="M209.40,139.40 l2,1.2 l-1.2,1.8 M212.80,138.40 l0,3 M209.80,143.40 l3.2,0.6 M210.80,145.40 l1.6,2.4 l-2,0.4 M213.20,145.60 l0,2.6" stroke="#4a64c8" stroke-width="0.8" fill="none" opacity="0.7"/>
<rect x="207.10" y="160.60" width="9.00" height="3.00" fill="#f6d8cc" rx="0.8"/>
<ellipse cx="224.90" cy="112.40" rx="3.80" ry="3.3" fill="none" stroke="#c4c4c8" stroke-width="0.7"/>
<path d="M221.90,114.40 q2,3 4,2.5 M227.90,110.40 l-1.5,2.5" stroke="#b8b8bc" stroke-width="0.6" fill="none"/>
<rect x="220.40" y="116.40" width="9.00" height="6" fill="#eeeef0" stroke="#dcdce0" stroke-width="0.4"/>
<rect x="219.90" y="122.40" width="10.00" height="41.70" rx="1.2" fill="#fcfcfd" stroke="#e0e0e4" stroke-width="0.6"/>
<path d="M222.70,139.40 l2,1.2 l-1.2,1.8 M226.10,138.40 l0,3 M223.10,143.40 l3.2,0.6 M224.10,145.40 l1.6,2.4 l-2,0.4 M226.50,145.60 l0,2.6" stroke="#4a64c8" stroke-width="0.8" fill="none" opacity="0.7"/>
<rect x="220.40" y="160.60" width="9.00" height="3.00" fill="#f6d8cc" rx="0.8"/>
<ellipse cx="238.20" cy="112.40" rx="3.80" ry="3.3" fill="none" stroke="#c4c4c8" stroke-width="0.7"/>
<path d="M235.20,114.40 q2,3 4,2.5 M241.20,110.40 l-1.5,2.5" stroke="#b8b8bc" stroke-width="0.6" fill="none"/>
<rect x="233.70" y="116.40" width="9.00" height="6" fill="#eeeef0" stroke="#dcdce0" stroke-width="0.4"/>
<rect x="233.20" y="122.40" width="10.00" height="41.70" rx="1.2" fill="#fcfcfd" stroke="#e0e0e4" stroke-width="0.6"/>
<path d="M236.00,139.40 l2,1.2 l-1.2,1.8 M239.40,138.40 l0,3 M236.40,143.40 l3.2,0.6 M237.40,145.40 l1.6,2.4 l-2,0.4 M239.80,145.60 l0,2.6" stroke="#4a64c8" stroke-width="0.8" fill="none" opacity="0.7"/>
<rect x="233.70" y="160.60" width="9.00" height="3.00" fill="#f6d8cc" rx="0.8"/>
<ellipse cx="251.50" cy="112.40" rx="3.80" ry="3.3" fill="none" stroke="#c4c4c8" stroke-width="0.7"/>
<path d="M248.50,114.40 q2,3 4,2.5 M254.50,110.40 l-1.5,2.5" stroke="#b8b8bc" stroke-width="0.6" fill="none"/>
<rect x="247.00" y="116.40" width="9.00" height="6" fill="#eeeef0" stroke="#dcdce0" stroke-width="0.4"/>
<rect x="246.50" y="122.40" width="10.00" height="41.70" rx="1.2" fill="#fcfcfd" stroke="#e0e0e4" stroke-width="0.6"/>
<path d="M249.30,139.40 l2,1.2 l-1.2,1.8 M252.70,138.40 l0,3 M249.70,143.40 l3.2,0.6 M250.70,145.40 l1.6,2.4 l-2,0.4 M253.10,145.60 l0,2.6" stroke="#4a64c8" stroke-width="0.8" fill="none" opacity="0.7"/>
<rect x="247.00" y="160.60" width="9.00" height="3.00" fill="#f6d8cc" rx="0.8"/>
<ellipse cx="264.80" cy="112.40" rx="3.80" ry="3.3" fill="none" stroke="#c4c4c8" stroke-width="0.7"/>
<path d="M261.80,114.40 q2,3 4,2.5 M267.80,110.40 l-1.5,2.5" stroke="#b8b8bc" stroke-width="0.6" fill="none"/>
<rect x="260.30" y="116.40" width="9.00" height="6" fill="#eeeef0" stroke="#dcdce0" stroke-width="0.4"/>
<rect x="259.80" y="122.40" width="10.00" height="41.70" rx="1.2" fill="#fcfcfd" stroke="#e0e0e4" stroke-width="0.6"/>
<path d="M262.60,139.40 l2,1.2 l-1.2,1.8 M266.00,138.40 l0,3 M263.00,143.40 l3.2,0.6 M264.00,145.40 l1.6,2.4 l-2,0.4 M266.40,145.60 l0,2.6" stroke="#4a64c8" stroke-width="0.8" fill="none" opacity="0.7"/>
<rect x="260.30" y="160.60" width="9.00" height="3.00" fill="#f6d8cc" rx="0.8"/>
<text x="238.20" y="134.60" font-size="10.6" font-weight="bold" font-style="italic" text-anchor="middle" fill="#141c2c" font-family='"Liberation Sans", sans-serif' stroke="#fff" stroke-width="2.4" stroke-opacity="0.85" paint-order="stroke">Day 0</text>
<rect x="286.50" y="105.40" width="66.80" height="61.20" rx="5.5" fill="#fdfdfd" stroke="#9a9a9a" stroke-width="0.9"/>
<ellipse cx="293.50" cy="112.40" rx="3.80" ry="3.3" fill="none" stroke="#c4c4c8" stroke-width="0.7"/>
<path d="M290.50,114.40 q2,3 4,2.5 M296.50,110.40 l-1.5,2.5" stroke="#b8b8bc" stroke-width="0.6" fill="none"/>
<rect x="289.00" y="116.40" width="9.00" height="6" fill="#eeeef0" stroke="#dcdce0" stroke-width="0.4"/>
<rect x="288.50" y="122.40" width="10.00" height="41.70" rx="1.2" fill="#fcfcfd" stroke="#e0e0e4" stroke-width="0.6"/>
<path d="M291.30,139.40 l2,1.2 l-1.2,1.8 M294.70,138.40 l0,3 M291.70,143.40 l3.2,0.6 M292.70,145.40 l1.6,2.4 l-2,0.4 M295.10,145.60 l0,2.6" stroke="#4a64c8" stroke-width="0.8" fill="none" opacity="0.7"/>
<rect x="288.70" y="129.40" width="9.60" height="34.20" fill="url(#gfdf6f2f3c2a8)" rx="1.2"/>
<path d="M294.50,136.40 l0,3 M293.00,141.40 l1.2,1.4" stroke="#404060" stroke-width="0.7" opacity="0.45"/>
<ellipse cx="306.70" cy="112.40" rx="3.80" ry="3.3" fill="none" stroke="#c4c4c8" stroke-width="0.7"/>
<path d="M303.70,114.40 q2,3 4,2.5 M309.70,110.40 l-1.5,2.5" stroke="#b8b8bc" stroke-width="0.6" fill="none"/>
<rect x="302.20" y="116.40" width="9.00" height="6" fill="#eeeef0" stroke="#dcdce0" stroke-width="0.4"/>
<rect x="301.70" y="122.40" width="10.00" height="41.70" rx="1.2" fill="#fcfcfd" stroke="#e0e0e4" stroke-width="0.6"/>
<path d="M304.50,139.40 l2,1.2 l-1.2,1.8 M307.90,138.40 l0,3 M304.90,143.40 l3.2,0.6 M305.90,145.40 l1.6,2.4 l-2,0.4 M308.30,145.60 l0,2.6" stroke="#4a64c8" stroke-width="0.8" fill="none" opacity="0.7"/>
<rect x="301.90" y="131.40" width="9.60" height="32.20" fill="url(#gfdf6f2f3c2a8)" rx="1.2"/>
<path d="M307.70,138.40 l0,3 M306.20,143.40 l1.2,1.4" stroke="#404060" stroke-width="0.7" opacity="0.45"/>
<ellipse cx="319.90" cy="112.40" rx="3.80" ry="3.3" fill="none" stroke="#c4c4c8" stroke-width="0.7"/>
<path d="M316.90,114.40 q2,3 4,2.5 M322.90,110.40 l-1.5,2.5" stroke="#b8b8bc" stroke-width="0.6" fill="none"/>
<rect x="315.40" y="116.40" width="9.00" height="6" fill="#eeeef0" stroke="#dcdce0" stroke-width="0.4"/>
<rect x="314.90" y="122.40" width="10.00" height="41.70" rx="1.2" fill="#fcfcfd" stroke="#e0e0e4" stroke-width="0.6"/>
<path d="M317.70,139.40 l2,1.2 l-1.2,1.8 M321.10,138.40 l0,3 M318.10,143.40 l3.2,0.6 M319.10,145.40 l1.6,2.4 l-2,0.4 M321.50,145.60 l0,2.6" stroke="#4a64c8" stroke-width="0.8" fill="none" opacity="0.7"/>
<rect x="315.10" y="132.40" width="9.60" height="31.20" fill="url(#gfdf6f2f2bea4)" rx="1.2"/>
<path d="M320.90,139.40 l0,3 M319.40,144.40 l1.2,1.4" stroke="#404060" stroke-width="0.7" opacity="0.45"/>
<ellipse cx="333.10" cy="112.40" rx="3.80" ry="3.3" fill="none" stroke="#c4c4c8" stroke-width="0.7"/>
<path d="M330.10,114.40 q2,3 4,2.5 M336.10,110.40 l-1.5,2.5" stroke="#b8b8bc" stroke-width="0.6" fill="none"/>
<rect x="328.60" y="116.40" width="9.00" height="6" fill="#eeeef0" stroke="#dcdce0" stroke-width="0.4"/>
<rect x="328.10" y="122.40" width="10.00" height="41.70" rx="1.2" fill="#fcfcfd" stroke="#e0e0e4" stroke-width="0.6"/>
<path d="M330.90,139.40 l2,1.2 l-1.2,1.8 M334.30,138.40 l0,3 M331.30,143.40 l3.2,0.6 M332.30,145.40 l1.6,2.4 l-2,0.4 M334.70,145.60 l0,2.6" stroke="#4a64c8" stroke-width="0.8" fill="none" opacity="0.7"/>
<rect x="328.30" y="132.40" width="9.60" height="31.20" fill="url(#gfdf6f2f4c8b0)" rx="1.2"/>
<path d="M334.10,139.40 l0,3 M332.60,144.40 l1.2,1.4" stroke="#404060" stroke-width="0.7" opacity="0.45"/>
<ellipse cx="346.30" cy="112.40" rx="3.80" ry="3.3" fill="none" stroke="#c4c4c8" stroke-width="0.7"/>
<path d="M343.30,114.40 q2,3 4,2.5 M349.30,110.40 l-1.5,2.5" stroke="#b8b8bc" stroke-width="0.6" fill="none"/>
<rect x="341.80" y="116.40" width="9.00" height="6" fill="#eeeef0" stroke="#dcdce0" stroke-width="0.4"/>
<rect x="341.30" y="122.40" width="10.00" height="41.70" rx="1.2" fill="#fcfcfd" stroke="#e0e0e4" stroke-width="0.6"/>
<path d="M344.10,139.40 l2,1.2 l-1.2,1.8 M347.50,138.40 l0,3 M344.50,143.40 l3.2,0.6 M345.50,145.40 l1.6,2.4 l-2,0.4 M347.90,145.60 l0,2.6" stroke="#4a64c8" stroke-width="0.8" fill="none" opacity="0.7"/>
<rect x="341.50" y="127.40" width="9.60" height="36.20" fill="url(#gfdf6f2f3c0a6)" rx="1.2"/>
<path d="M347.30,134.40 l0,3 M345.80,139.40 l1.2,1.4" stroke="#404060" stroke-width="0.7" opacity="0.45"/>
<text x="317.90" y="134.60" font-size="10.6" font-weight="bold" font-style="italic" text-anchor="middle" fill="#141c2c" font-family='"Liberation Sans", sans-serif' stroke="#fff" stroke-width="2.4" stroke-opacity="0.85" paint-order="stroke">Day 14</text>
<rect x="368.50" y="105.40" width="65.50" height="61.20" rx="5.5" fill="#fdfdfd" stroke="#9a9a9a" stroke-width="0.9"/>
<ellipse cx="375.50" cy="112.40" rx="3.80" ry="3.3" fill="none" stroke="#c4c4c8" stroke-width="0.7"/>
<path d="M372.50,114.40 q2,3 4,2.5 M378.50,110.40 l-1.5,2.5" stroke="#b8b8bc" stroke-width="0.6" fill="none"/>
<rect x="371.00" y="116.40" width="9.00" height="6" fill="#eeeef0" stroke="#dcdce0" stroke-width="0.4"/>
<rect x="370.50" y="122.40" width="10.00" height="41.70" rx="1.2" fill="#fcfcfd" stroke="#e0e0e4" stroke-width="0.6"/>
<path d="M373.30,139.40 l2,1.2 l-1.2,1.8 M376.70,138.40 l0,3 M373.70,143.40 l3.2,0.6 M374.70,145.40 l1.6,2.4 l-2,0.4 M377.10,145.60 l0,2.6" stroke="#4a64c8" stroke-width="0.8" fill="none" opacity="0.7"/>
<rect x="370.70" y="134.10" width="9.60" height="29.50" fill="url(#gfa6a3ef25a32)" rx="1.2"/>
<path d="M376.50,141.10 l0,3 M375.00,146.10 l1.2,1.4" stroke="#404060" stroke-width="0.7" opacity="0.45"/>
<ellipse cx="388.38" cy="112.40" rx="3.80" ry="3.3" fill="none" stroke="#c4c4c8" stroke-width="0.7"/>
<path d="M385.38,114.40 q2,3 4,2.5 M391.38,110.40 l-1.5,2.5" stroke="#b8b8bc" stroke-width="0.6" fill="none"/>
<rect x="383.88" y="116.40" width="9.00" height="6" fill="#eeeef0" stroke="#dcdce0" stroke-width="0.4"/>
<rect x="383.38" y="122.40" width="10.00" height="41.70" rx="1.2" fill="#fcfcfd" stroke="#e0e0e4" stroke-width="0.6"/>
<path d="M386.18,139.40 l2,1.2 l-1.2,1.8 M389.57,138.40 l0,3 M386.57,143.40 l3.2,0.6 M387.57,145.40 l1.6,2.4 l-2,0.4 M389.98,145.60 l0,2.6" stroke="#4a64c8" stroke-width="0.8" fill="none" opacity="0.7"/>
<rect x="383.57" y="137.00" width="9.60" height="26.60" fill="url(#gfa6a3ef25a32)" rx="1.2"/>
<path d="M389.38,144.00 l0,3 M387.88,149.00 l1.2,1.4" stroke="#404060" stroke-width="0.7" opacity="0.45"/>
<ellipse cx="401.25" cy="112.40" rx="3.80" ry="3.3" fill="none" stroke="#c4c4c8" stroke-width="0.7"/>
<path d="M398.25,114.40 q2,3 4,2.5 M404.25,110.40 l-1.5,2.5" stroke="#b8b8bc" stroke-width="0.6" fill="none"/>
<rect x="396.75" y="116.40" width="9.00" height="6" fill="#eeeef0" stroke="#dcdce0" stroke-width="0.4"/>
<rect x="396.25" y="122.40" width="10.00" height="41.70" rx="1.2" fill="#fcfcfd" stroke="#e0e0e4" stroke-width="0.6"/>
<path d="M399.05,139.40 l2,1.2 l-1.2,1.8 M402.45,138.40 l0,3 M399.45,143.40 l3.2,0.6 M400.45,145.40 l1.6,2.4 l-2,0.4 M402.85,145.60 l0,2.6" stroke="#4a64c8" stroke-width="0.8" fill="none" opacity="0.7"/>
<rect x="396.45" y="137.00" width="9.60" height="26.60" fill="url(#gfa6a3ef25a32)" rx="1.2"/>
<path d="M402.25,144.00 l0,3 M400.75,149.00 l1.2,1.4" stroke="#404060" stroke-width="0.7" opacity="0.45"/>
<ellipse cx="414.12" cy="112.40" rx="3.80" ry="3.3" fill="none" stroke="#c4c4c8" stroke-width="0.7"/>
<path d="M411.12,114.40 q2,3 4,2.5 M417.12,110.40 l-1.5,2.5" stroke="#b8b8bc" stroke-width="0.6" fill="none"/>
<rect x="409.62" y="116.40" width="9.00" height="6" fill="#eeeef0" stroke="#dcdce0" stroke-width="0.4"/>
<rect x="409.12" y="122.40" width="10.00" height="41.70" rx="1.2" fill="#fcfcfd" stroke="#e0e0e4" stroke-width="0.6"/>
<path d="M411.93,139.40 l2,1.2 l-1.2,1.8 M415.32,138.40 l0,3 M412.32,143.40 l3.2,0.6 M413.32,145.40 l1.6,2.4 l-2,0.4 M415.73,145.60 l0,2.6" stroke="#4a64c8" stroke-width="0.8" fill="none" opacity="0.7"/>
<rect x="409.32" y="137.00" width="9.60" height="26.60" fill="url(#gfa6a3ef25a32)" rx="1.2"/>
<path d="M415.12,144.00 l0,3 M413.62,149.00 l1.2,1.4" stroke="#404060" stroke-width="0.7" opacity="0.45"/>
<ellipse cx="427.00" cy="112.40" rx="3.80" ry="3.3" fill="none" stroke="#c4c4c8" stroke-width="0.7"/>
<path d="M424.00,114.40 q2,3 4,2.5 M430.00,110.40 l-1.5,2.5" stroke="#b8b8bc" stroke-width="0.6" fill="none"/>
<rect x="422.50" y="116.40" width="9.00" height="6" fill="#eeeef0" stroke="#dcdce0" stroke-width="0.4"/>
<rect x="422.00" y="122.40" width="10.00" height="41.70" rx="1.2" fill="#fcfcfd" stroke="#e0e0e4" stroke-width="0.6"/>
<path d="M424.80,139.40 l2,1.2 l-1.2,1.8 M428.20,138.40 l0,3 M425.20,143.40 l3.2,0.6 M426.20,145.40 l1.6,2.4 l-2,0.4 M428.60,145.60 l0,2.6" stroke="#4a64c8" stroke-width="0.8" fill="none" opacity="0.7"/>
<rect x="422.20" y="134.10" width="9.60" height="29.50" fill="url(#gfa6a3ef25a32)" rx="1.2"/>
<path d="M428.00,141.10 l0,3 M426.50,146.10 l1.2,1.4" stroke="#404060" stroke-width="0.7" opacity="0.45"/>
<text x="399.25" y="134.60" font-size="10.6" font-weight="bold" font-style="italic" text-anchor="middle" fill="#141c2c" font-family='"Liberation Sans", sans-serif' stroke="#fff" stroke-width="2.4" stroke-opacity="0.85" paint-order="stroke">Day 29</text>
<rect x="204.80" y="177.00" width="230.40" height="14.80" fill="#0a4a7a"/>
<text x="285.00" y="188.50" font-size="11.4" font-weight="bold" font-style="italic" fill="#fff" font-family='"Liberation Sans", sans-serif'>Open 0% StS</text>
<rect x="204.60" y="193.40" width="64.70" height="59.90" rx="5.5" fill="#fdfdfd" stroke="#9a9a9a" stroke-width="0.9"/>
<rect x="206.60" y="198.40" width="10.00" height="3" fill="#f0f0f0"/>
<rect x="206.60" y="201.40" width="10.00" height="49.40" rx="1.2" fill="#fcfcfd" stroke="#e0e0e4" stroke-width="0.6"/>
<rect x="207.10" y="212.40" width="9.00" height="1.4" fill="#ecc8c4"/>
<path d="M209.40,223.40 l2,1.2 l-1.2,1.8 M212.80,222.40 l0,3 M209.80,227.40 l3.2,0.6 M210.80,229.40 l1.6,2.4 l-2,0.4 M213.20,229.60 l0,2.6" stroke="#404a70" stroke-width="0.8" fill="none" opacity="0.7"/>
<rect x="207.10" y="245.10" width="9.00" height="3.20" fill="url(#gfbe4e2e25a5a)" rx="0.8"/>
<rect x="219.28" y="198.40" width="10.00" height="3" fill="#f0f0f0"/>
<rect x="219.28" y="201.40" width="10.00" height="49.40" rx="1.2" fill="#fcfcfd" stroke="#e0e0e4" stroke-width="0.6"/>
<rect x="219.78" y="212.40" width="9.00" height="1.4" fill="#ecc8c4"/>
<path d="M222.08,223.40 l2,1.2 l-1.2,1.8 M225.47,222.40 l0,3 M222.47,227.40 l3.2,0.6 M223.47,229.40 l1.6,2.4 l-2,0.4 M225.88,229.60 l0,2.6" stroke="#404a70" stroke-width="0.8" fill="none" opacity="0.7"/>
<rect x="219.78" y="245.10" width="9.00" height="3.20" fill="url(#gfbe4e2e25a5a)" rx="0.8"/>
<rect x="231.95" y="198.40" width="10.00" height="3" fill="#f0f0f0"/>
<rect x="231.95" y="201.40" width="10.00" height="49.40" rx="1.2" fill="#fcfcfd" stroke="#e0e0e4" stroke-width="0.6"/>
<rect x="232.45" y="212.40" width="9.00" height="1.4" fill="#ecc8c4"/>
<path d="M234.75,223.40 l2,1.2 l-1.2,1.8 M238.15,222.40 l0,3 M235.15,227.40 l3.2,0.6 M236.15,229.40 l1.6,2.4 l-2,0.4 M238.55,229.60 l0,2.6" stroke="#404a70" stroke-width="0.8" fill="none" opacity="0.7"/>
<rect x="232.45" y="245.10" width="9.00" height="3.20" fill="url(#gfbe4e2e25a5a)" rx="0.8"/>
<rect x="244.62" y="198.40" width="10.00" height="3" fill="#f0f0f0"/>
<rect x="244.62" y="201.40" width="10.00" height="49.40" rx="1.2" fill="#fcfcfd" stroke="#e0e0e4" stroke-width="0.6"/>
<rect x="245.12" y="212.40" width="9.00" height="1.4" fill="#ecc8c4"/>
<path d="M247.43,223.40 l2,1.2 l-1.2,1.8 M250.82,222.40 l0,3 M247.82,227.40 l3.2,0.6 M248.82,229.40 l1.6,2.4 l-2,0.4 M251.22,229.60 l0,2.6" stroke="#404a70" stroke-width="0.8" fill="none" opacity="0.7"/>
<rect x="245.12" y="245.10" width="9.00" height="3.20" fill="url(#gfbe4e2e25a5a)" rx="0.8"/>
<rect x="257.30" y="198.40" width="10.00" height="3" fill="#f0f0f0"/>
<rect x="257.30" y="201.40" width="10.00" height="49.40" rx="1.2" fill="#fcfcfd" stroke="#e0e0e4" stroke-width="0.6"/>
<rect x="257.80" y="212.40" width="9.00" height="1.4" fill="#ecc8c4"/>
<path d="M260.10,223.40 l2,1.2 l-1.2,1.8 M263.50,222.40 l0,3 M260.50,227.40 l3.2,0.6 M261.50,229.40 l1.6,2.4 l-2,0.4 M263.90,229.60 l0,2.6" stroke="#404a70" stroke-width="0.8" fill="none" opacity="0.7"/>
<rect x="257.80" y="245.10" width="9.00" height="3.20" fill="url(#gfbe4e2e25a5a)" rx="0.8"/>
<text x="236.95" y="217.60" font-size="10.6" font-weight="bold" font-style="italic" text-anchor="middle" fill="#141c2c" font-family='"Liberation Sans", sans-serif' stroke="#fff" stroke-width="2.4" stroke-opacity="0.85" paint-order="stroke">Day 0</text>
<rect x="287.70" y="193.40" width="65.10" height="59.90" rx="5.5" fill="#fdfdfd" stroke="#9a9a9a" stroke-width="0.9"/>
<rect x="289.70" y="198.40" width="10.00" height="3" fill="#f0f0f0"/>
<rect x="289.70" y="201.40" width="10.00" height="49.40" rx="1.2" fill="#fcfcfd" stroke="#e0e0e4" stroke-width="0.6"/>
<path d="M292.50,223.40 l2,1.2 l-1.2,1.8 M295.90,222.40 l0,3 M292.90,227.40 l3.2,0.6 M293.90,229.40 l1.6,2.4 l-2,0.4 M296.30,229.60 l0,2.6" stroke="#404a70" stroke-width="0.8" fill="none" opacity="0.7"/>
<rect x="289.90" y="219.90" width="9.60" height="28.40" fill="url(#gf98c58f68650)" rx="1.2"/>
<path d="M295.70,226.90 l0,3 M294.20,231.90 l1.2,1.4" stroke="#404060" stroke-width="0.7" opacity="0.45"/>
<rect x="302.48" y="198.40" width="10.00" height="3" fill="#f0f0f0"/>
<rect x="302.48" y="201.40" width="10.00" height="49.40" rx="1.2" fill="#fcfcfd" stroke="#e0e0e4" stroke-width="0.6"/>
<path d="M305.28,223.40 l2,1.2 l-1.2,1.8 M308.68,222.40 l0,3 M305.68,227.40 l3.2,0.6 M306.68,229.40 l1.6,2.4 l-2,0.4 M309.08,229.60 l0,2.6" stroke="#404a70" stroke-width="0.8" fill="none" opacity="0.7"/>
<rect x="302.68" y="219.90" width="9.60" height="28.40" fill="url(#gf9a070f79868)" rx="1.2"/>
<path d="M308.48,226.90 l0,3 M306.98,231.90 l1.2,1.4" stroke="#404060" stroke-width="0.7" opacity="0.45"/>
<rect x="315.25" y="198.40" width="10.00" height="3" fill="#f0f0f0"/>
<rect x="315.25" y="201.40" width="10.00" height="49.40" rx="1.2" fill="#fcfcfd" stroke="#e0e0e4" stroke-width="0.6"/>
<path d="M318.05,223.40 l2,1.2 l-1.2,1.8 M321.45,222.40 l0,3 M318.45,227.40 l3.2,0.6 M319.45,229.40 l1.6,2.4 l-2,0.4 M321.85,229.60 l0,2.6" stroke="#404a70" stroke-width="0.8" fill="none" opacity="0.7"/>
<rect x="315.45" y="219.90" width="9.60" height="28.40" fill="url(#gfbbc94f9b48c)" rx="1.2"/>
<path d="M321.25,226.90 l0,3 M319.75,231.90 l1.2,1.4" stroke="#404060" stroke-width="0.7" opacity="0.45"/>
<rect x="328.02" y="198.40" width="10.00" height="3" fill="#f0f0f0"/>
<rect x="328.02" y="201.40" width="10.00" height="49.40" rx="1.2" fill="#fcfcfd" stroke="#e0e0e4" stroke-width="0.6"/>
<path d="M330.82,223.40 l2,1.2 l-1.2,1.8 M334.22,222.40 l0,3 M331.22,227.40 l3.2,0.6 M332.22,229.40 l1.6,2.4 l-2,0.4 M334.62,229.60 l0,2.6" stroke="#404a70" stroke-width="0.8" fill="none" opacity="0.7"/>
<rect x="328.22" y="219.90" width="9.60" height="28.40" fill="url(#gfbb690f9ae88)" rx="1.2"/>
<path d="M334.02,226.90 l0,3 M332.52,231.90 l1.2,1.4" stroke="#404060" stroke-width="0.7" opacity="0.45"/>
<rect x="340.80" y="198.40" width="10.00" height="3" fill="#f0f0f0"/>
<rect x="340.80" y="201.40" width="10.00" height="49.40" rx="1.2" fill="#fcfcfd" stroke="#e0e0e4" stroke-width="0.6"/>
<path d="M343.60,223.40 l2,1.2 l-1.2,1.8 M347.00,222.40 l0,3 M344.00,227.40 l3.2,0.6 M345.00,229.40 l1.6,2.4 l-2,0.4 M347.40,229.60 l0,2.6" stroke="#404a70" stroke-width="0.8" fill="none" opacity="0.7"/>
<rect x="341.00" y="219.90" width="9.60" height="28.40" fill="url(#gfcc4a0fabc98)" rx="1.2"/>
<path d="M346.80,226.90 l0,3 M345.30,231.90 l1.2,1.4" stroke="#404060" stroke-width="0.7" opacity="0.45"/>
<text x="318.25" y="217.60" font-size="10.6" font-weight="bold" font-style="italic" text-anchor="middle" fill="#141c2c" font-family='"Liberation Sans", sans-serif' stroke="#fff" stroke-width="2.4" stroke-opacity="0.85" paint-order="stroke">Day 14</text>
<rect x="369.10" y="193.40" width="65.70" height="59.90" rx="5.5" fill="#fdfdfd" stroke="#9a9a9a" stroke-width="0.9"/>
<rect x="371.10" y="198.40" width="10.00" height="3" fill="#f0f0f0"/>
<rect x="371.10" y="201.40" width="10.00" height="49.40" rx="1.2" fill="#fcfcfd" stroke="#e0e0e4" stroke-width="0.6"/>
<path d="M373.90,223.40 l2,1.2 l-1.2,1.8 M377.30,222.40 l0,3 M374.30,227.40 l3.2,0.6 M375.30,229.40 l1.6,2.4 l-2,0.4 M377.70,229.60 l0,2.6" stroke="#404a70" stroke-width="0.8" fill="none" opacity="0.7"/>
<rect x="371.30" y="220.90" width="9.60" height="27.40" fill="url(#gfc3e24f43020)" rx="1.2"/>
<path d="M377.10,227.90 l0,3 M375.60,232.90 l1.2,1.4" stroke="#404060" stroke-width="0.7" opacity="0.45"/>
<rect x="384.03" y="198.40" width="10.00" height="3" fill="#f0f0f0"/>
<rect x="384.03" y="201.40" width="10.00" height="49.40" rx="1.2" fill="#fcfcfd" stroke="#e0e0e4" stroke-width="0.6"/>
<path d="M386.83,223.40 l2,1.2 l-1.2,1.8 M390.23,222.40 l0,3 M387.23,227.40 l3.2,0.6 M388.23,229.40 l1.6,2.4 l-2,0.4 M390.63,229.60 l0,2.6" stroke="#404a70" stroke-width="0.8" fill="none" opacity="0.7"/>
<rect x="384.23" y="220.90" width="9.60" height="27.40" fill="url(#gfc3e24f43020)" rx="1.2"/>
<path d="M390.03,227.90 l0,3 M388.53,232.90 l1.2,1.4" stroke="#404060" stroke-width="0.7" opacity="0.45"/>
<rect x="396.95" y="198.40" width="10.00" height="3" fill="#f0f0f0"/>
<rect x="396.95" y="201.40" width="10.00" height="49.40" rx="1.2" fill="#fcfcfd" stroke="#e0e0e4" stroke-width="0.6"/>
<path d="M399.75,223.40 l2,1.2 l-1.2,1.8 M403.15,222.40 l0,3 M400.15,227.40 l3.2,0.6 M401.15,229.40 l1.6,2.4 l-2,0.4 M403.55,229.60 l0,2.6" stroke="#404a70" stroke-width="0.8" fill="none" opacity="0.7"/>
<rect x="397.15" y="220.90" width="9.60" height="27.40" fill="url(#gfc3e24f43020)" rx="1.2"/>
<path d="M402.95,227.90 l0,3 M401.45,232.90 l1.2,1.4" stroke="#404060" stroke-width="0.7" opacity="0.45"/>
<rect x="409.88" y="198.40" width="10.00" height="3" fill="#f0f0f0"/>
<rect x="409.88" y="201.40" width="10.00" height="49.40" rx="1.2" fill="#fcfcfd" stroke="#e0e0e4" stroke-width="0.6"/>
<path d="M412.68,223.40 l2,1.2 l-1.2,1.8 M416.07,222.40 l0,3 M413.07,227.40 l3.2,0.6 M414.07,229.40 l1.6,2.4 l-2,0.4 M416.48,229.60 l0,2.6" stroke="#404a70" stroke-width="0.8" fill="none" opacity="0.7"/>
<rect x="410.07" y="220.90" width="9.60" height="27.40" fill="url(#gfc3e24f43020)" rx="1.2"/>
<path d="M415.88,227.90 l0,3 M414.38,232.90 l1.2,1.4" stroke="#404060" stroke-width="0.7" opacity="0.45"/>
<rect x="422.80" y="198.40" width="10.00" height="3" fill="#f0f0f0"/>
<rect x="422.80" y="201.40" width="10.00" height="49.40" rx="1.2" fill="#fcfcfd" stroke="#e0e0e4" stroke-width="0.6"/>
<path d="M425.60,223.40 l2,1.2 l-1.2,1.8 M429.00,222.40 l0,3 M426.00,227.40 l3.2,0.6 M427.00,229.40 l1.6,2.4 l-2,0.4 M429.40,229.60 l0,2.6" stroke="#404a70" stroke-width="0.8" fill="none" opacity="0.7"/>
<rect x="423.00" y="220.90" width="9.60" height="27.40" fill="url(#gfc3e24f43020)" rx="1.2"/>
<path d="M428.80,227.90 l0,3 M427.30,232.90 l1.2,1.4" stroke="#404060" stroke-width="0.7" opacity="0.45"/>
<text x="399.95" y="217.60" font-size="10.6" font-weight="bold" font-style="italic" text-anchor="middle" fill="#141c2c" font-family='"Liberation Sans", sans-serif' stroke="#fff" stroke-width="2.4" stroke-opacity="0.85" paint-order="stroke">Day 29</text>
<rect x="205.20" y="255.30" width="230.00" height="15.30" fill="#12b6b6"/>
<text x="281.00" y="267.05" font-size="11.4" font-weight="bold" font-style="italic" fill="#fff" font-family='"Liberation Sans", sans-serif'>Open 100% StS</text>
<rect x="204.20" y="271.80" width="64.70" height="59.50" rx="5.5" fill="#fdfdfd" stroke="#9a9a9a" stroke-width="0.9"/>
<rect x="206.20" y="276.80" width="10.00" height="3" fill="#f0f0f0"/>
<rect x="206.20" y="279.80" width="10.00" height="49.00" rx="1.2" fill="#fcfcfd" stroke="#e0e0e4" stroke-width="0.6"/>
<path d="M209.00,301.80 l2,1.2 l-1.2,1.8 M212.40,300.80 l0,3 M209.40,305.80 l3.2,0.6 M210.40,307.80 l1.6,2.4 l-2,0.4 M212.80,308.00 l0,2.6" stroke="#404a70" stroke-width="0.8" fill="none" opacity="0.7"/>
<rect x="206.70" y="323.30" width="9.00" height="3.00" fill="url(#gfceceaf0948c)" rx="0.8"/>
<rect x="218.88" y="276.80" width="10.00" height="3" fill="#f0f0f0"/>
<rect x="218.88" y="279.80" width="10.00" height="49.00" rx="1.2" fill="#fcfcfd" stroke="#e0e0e4" stroke-width="0.6"/>
<path d="M221.68,301.80 l2,1.2 l-1.2,1.8 M225.07,300.80 l0,3 M222.07,305.80 l3.2,0.6 M223.07,307.80 l1.6,2.4 l-2,0.4 M225.47,308.00 l0,2.6" stroke="#404a70" stroke-width="0.8" fill="none" opacity="0.7"/>
<rect x="219.38" y="323.30" width="9.00" height="3.00" fill="url(#gfceceaf0948c)" rx="0.8"/>
<rect x="231.55" y="276.80" width="10.00" height="3" fill="#f0f0f0"/>
<rect x="231.55" y="279.80" width="10.00" height="49.00" rx="1.2" fill="#fcfcfd" stroke="#e0e0e4" stroke-width="0.6"/>
<path d="M234.35,301.80 l2,1.2 l-1.2,1.8 M237.75,300.80 l0,3 M234.75,305.80 l3.2,0.6 M235.75,307.80 l1.6,2.4 l-2,0.4 M238.15,308.00 l0,2.6" stroke="#404a70" stroke-width="0.8" fill="none" opacity="0.7"/>
<rect x="232.05" y="323.30" width="9.00" height="3.00" fill="url(#gfceceaf0948c)" rx="0.8"/>
<rect x="244.22" y="276.80" width="10.00" height="3" fill="#f0f0f0"/>
<rect x="244.22" y="279.80" width="10.00" height="49.00" rx="1.2" fill="#fcfcfd" stroke="#e0e0e4" stroke-width="0.6"/>
<path d="M247.02,301.80 l2,1.2 l-1.2,1.8 M250.42,300.80 l0,3 M247.42,305.80 l3.2,0.6 M248.42,307.80 l1.6,2.4 l-2,0.4 M250.82,308.00 l0,2.6" stroke="#404a70" stroke-width="0.8" fill="none" opacity="0.7"/>
<rect x="244.72" y="323.30" width="9.00" height="3.00" fill="url(#gfceceaf0948c)" rx="0.8"/>
<rect x="256.90" y="276.80" width="10.00" height="3" fill="#f0f0f0"/>
<rect x="256.90" y="279.80" width="10.00" height="49.00" rx="1.2" fill="#fcfcfd" stroke="#e0e0e4" stroke-width="0.6"/>
<path d="M259.70,301.80 l2,1.2 l-1.2,1.8 M263.10,300.80 l0,3 M260.10,305.80 l3.2,0.6 M261.10,307.80 l1.6,2.4 l-2,0.4 M263.50,308.00 l0,2.6" stroke="#404a70" stroke-width="0.8" fill="none" opacity="0.7"/>
<rect x="257.40" y="323.30" width="9.00" height="3.00" fill="url(#gfceceaf0948c)" rx="0.8"/>
<text x="238.05" y="298.60" font-size="10.6" font-weight="bold" font-style="italic" text-anchor="middle" fill="#141c2c" font-family='"Liberation Sans", sans-serif' stroke="#fff" stroke-width="2.4" stroke-opacity="0.85" paint-order="stroke">Day 0</text>
<rect x="287.80" y="271.80" width="65.00" height="59.50" rx="5.5" fill="#fdfdfd" stroke="#9a9a9a" stroke-width="0.9"/>
<rect x="289.80" y="276.80" width="10.00" height="3" fill="#f0f0f0"/>
<rect x="289.80" y="279.80" width="10.00" height="49.00" rx="1.2" fill="#fcfcfd" stroke="#e0e0e4" stroke-width="0.6"/>
<path d="M292.60,301.80 l2,1.2 l-1.2,1.8 M296.00,300.80 l0,3 M293.00,305.80 l3.2,0.6 M294.00,307.80 l1.6,2.4 l-2,0.4 M296.40,308.00 l0,2.6" stroke="#404a70" stroke-width="0.8" fill="none" opacity="0.7"/>
<rect x="290.00" y="295.80" width="9.60" height="30.50" fill="url(#gfbe8dcf2c0a8)" rx="1.2"/>
<path d="M295.80,302.80 l0,3 M294.30,307.80 l1.2,1.4" stroke="#404060" stroke-width="0.7" opacity="0.45"/>
<rect x="302.55" y="276.80" width="10.00" height="3" fill="#f0f0f0"/>
<rect x="302.55" y="279.80" width="10.00" height="49.00" rx="1.2" fill="#fcfcfd" stroke="#e0e0e4" stroke-width="0.6"/>
<path d="M305.35,301.80 l2,1.2 l-1.2,1.8 M308.75,300.80 l0,3 M305.75,305.80 l3.2,0.6 M306.75,307.80 l1.6,2.4 l-2,0.4 M309.15,308.00 l0,2.6" stroke="#404a70" stroke-width="0.8" fill="none" opacity="0.7"/>
<rect x="302.75" y="295.80" width="9.60" height="30.50" fill="url(#gfbebe0f4c6ae)" rx="1.2"/>
<path d="M308.55,302.80 l0,3 M307.05,307.80 l1.2,1.4" stroke="#404060" stroke-width="0.7" opacity="0.45"/>
<rect x="315.30" y="276.80" width="10.00" height="3" fill="#f0f0f0"/>
<rect x="315.30" y="279.80" width="10.00" height="49.00" rx="1.2" fill="#fcfcfd" stroke="#e0e0e4" stroke-width="0.6"/>
<path d="M318.10,301.80 l2,1.2 l-1.2,1.8 M321.50,300.80 l0,3 M318.50,305.80 l3.2,0.6 M319.50,307.80 l1.6,2.4 l-2,0.4 M321.90,308.00 l0,2.6" stroke="#404a70" stroke-width="0.8" fill="none" opacity="0.7"/>
<rect x="315.50" y="295.80" width="9.60" height="30.50" fill="url(#gfcefe6f4cab4)" rx="1.2"/>
<path d="M321.30,302.80 l0,3 M319.80,307.80 l1.2,1.4" stroke="#404060" stroke-width="0.7" opacity="0.45"/>
<rect x="328.05" y="276.80" width="10.00" height="3" fill="#f0f0f0"/>
<rect x="328.05" y="279.80" width="10.00" height="49.00" rx="1.2" fill="#fcfcfd" stroke="#e0e0e4" stroke-width="0.6"/>
<path d="M330.85,301.80 l2,1.2 l-1.2,1.8 M334.25,300.80 l0,3 M331.25,305.80 l3.2,0.6 M332.25,307.80 l1.6,2.4 l-2,0.4 M334.65,308.00 l0,2.6" stroke="#404a70" stroke-width="0.8" fill="none" opacity="0.7"/>
<rect x="328.25" y="295.80" width="9.60" height="30.50" fill="url(#gfbebe0f2c2aa)" rx="1.2"/>
<path d="M334.05,302.80 l0,3 M332.55,307.80 l1.2,1.4" stroke="#404060" stroke-width="0.7" opacity="0.45"/>
<rect x="340.80" y="276.80" width="10.00" height="3" fill="#f0f0f0"/>
<rect x="340.80" y="279.80" width="10.00" height="49.00" rx="1.2" fill="#fcfcfd" stroke="#e0e0e4" stroke-width="0.6"/>
<path d="M343.60,301.80 l2,1.2 l-1.2,1.8 M347.00,300.80 l0,3 M344.00,305.80 l3.2,0.6 M345.00,307.80 l1.6,2.4 l-2,0.4 M347.40,308.00 l0,2.6" stroke="#404a70" stroke-width="0.8" fill="none" opacity="0.7"/>
<rect x="341.00" y="295.80" width="9.60" height="30.50" fill="url(#gfcefe6f4c8b2)" rx="1.2"/>
<path d="M346.80,302.80 l0,3 M345.30,307.80 l1.2,1.4" stroke="#404060" stroke-width="0.7" opacity="0.45"/>
<text x="318.30" y="298.60" font-size="10.6" font-weight="bold" font-style="italic" text-anchor="middle" fill="#141c2c" font-family='"Liberation Sans", sans-serif' stroke="#fff" stroke-width="2.4" stroke-opacity="0.85" paint-order="stroke">Day 14</text>
<rect x="369.10" y="271.80" width="65.70" height="59.50" rx="5.5" fill="#fdfdfd" stroke="#9a9a9a" stroke-width="0.9"/>
<rect x="371.10" y="276.80" width="10.00" height="3" fill="#f0f0f0"/>
<rect x="371.10" y="279.80" width="10.00" height="49.00" rx="1.2" fill="#fcfcfd" stroke="#e0e0e4" stroke-width="0.6"/>
<path d="M373.90,301.80 l2,1.2 l-1.2,1.8 M377.30,300.80 l0,3 M374.30,305.80 l3.2,0.6 M375.30,307.80 l1.6,2.4 l-2,0.4 M377.70,308.00 l0,2.6" stroke="#404a70" stroke-width="0.8" fill="none" opacity="0.7"/>
<rect x="371.30" y="296.80" width="9.60" height="29.50" fill="url(#gfc6238f45430)" rx="1.2"/>
<path d="M377.10,303.80 l0,3 M375.60,308.80 l1.2,1.4" stroke="#404060" stroke-width="0.7" opacity="0.45"/>
<rect x="384.03" y="276.80" width="10.00" height="3" fill="#f0f0f0"/>
<rect x="384.03" y="279.80" width="10.00" height="49.00" rx="1.2" fill="#fcfcfd" stroke="#e0e0e4" stroke-width="0.6"/>
<path d="M386.83,301.80 l2,1.2 l-1.2,1.8 M390.23,300.80 l0,3 M387.23,305.80 l3.2,0.6 M388.23,307.80 l1.6,2.4 l-2,0.4 M390.63,308.00 l0,2.6" stroke="#404a70" stroke-width="0.8" fill="none" opacity="0.7"/>
<rect x="384.23" y="300.80" width="9.60" height="25.50" fill="url(#gea3850e02c44)" rx="1.2"/>
<path d="M390.03,307.80 l0,3 M388.53,312.80 l1.2,1.4" stroke="#404060" stroke-width="0.7" opacity="0.45"/>
<rect x="396.95" y="276.80" width="10.00" height="3" fill="#f0f0f0"/>
<rect x="396.95" y="279.80" width="10.00" height="49.00" rx="1.2" fill="#fcfcfd" stroke="#e0e0e4" stroke-width="0.6"/>
<path d="M399.75,301.80 l2,1.2 l-1.2,1.8 M403.15,300.80 l0,3 M400.15,305.80 l3.2,0.6 M401.15,307.80 l1.6,2.4 l-2,0.4 M403.55,308.00 l0,2.6" stroke="#404a70" stroke-width="0.8" fill="none" opacity="0.7"/>
<rect x="397.15" y="300.80" width="9.60" height="25.50" fill="url(#gfc5e34f4502c)" rx="1.2"/>
<path d="M402.95,307.80 l0,3 M401.45,312.80 l1.2,1.4" stroke="#404060" stroke-width="0.7" opacity="0.45"/>
<rect x="409.88" y="276.80" width="10.00" height="3" fill="#f0f0f0"/>
<rect x="409.88" y="279.80" width="10.00" height="49.00" rx="1.2" fill="#fcfcfd" stroke="#e0e0e4" stroke-width="0.6"/>
<path d="M412.68,301.80 l2,1.2 l-1.2,1.8 M416.07,300.80 l0,3 M413.07,305.80 l3.2,0.6 M414.07,307.80 l1.6,2.4 l-2,0.4 M416.48,308.00 l0,2.6" stroke="#404a70" stroke-width="0.8" fill="none" opacity="0.7"/>
<rect x="410.07" y="300.80" width="9.60" height="25.50" fill="url(#gee4058e4344c)" rx="1.2"/>
<path d="M415.88,307.80 l0,3 M414.38,312.80 l1.2,1.4" stroke="#404060" stroke-width="0.7" opacity="0.45"/>
<rect x="422.80" y="276.80" width="10.00" height="3" fill="#f0f0f0"/>
<rect x="422.80" y="279.80" width="10.00" height="49.00" rx="1.2" fill="#fcfcfd" stroke="#e0e0e4" stroke-width="0.6"/>
<path d="M425.60,301.80 l2,1.2 l-1.2,1.8 M429.00,300.80 l0,3 M426.00,305.80 l3.2,0.6 M427.00,307.80 l1.6,2.4 l-2,0.4 M429.40,308.00 l0,2.6" stroke="#404a70" stroke-width="0.8" fill="none" opacity="0.7"/>
<rect x="423.00" y="296.30" width="9.60" height="30.00" fill="url(#ga8122e980c28)" rx="1.2"/>
<path d="M428.80,303.30 l0,3 M427.30,308.30 l1.2,1.4" stroke="#404060" stroke-width="0.7" opacity="0.45"/>
<text x="399.95" y="298.60" font-size="10.6" font-weight="bold" font-style="italic" text-anchor="middle" fill="#141c2c" font-family='"Liberation Sans", sans-serif' stroke="#fff" stroke-width="2.4" stroke-opacity="0.85" paint-order="stroke">Day 29</text>
<text x="441.20" y="19.00" font-size="14" font-weight="bold" font-style="normal" text-anchor="start" fill="#000" font-family='"Liberation Sans", sans-serif' >C</text>
<text transform="translate(488.4,31.80) scale(0.965,1.04)" font-size="8.6" font-weight="bold" font-style="italic" text-anchor="middle" fill="#3c5478" font-family='"Liberation Sans", sans-serif'>Hemoglobin derivatives</text>
<text x="488" y="41.60" font-size="8.6" font-weight="bold" font-style="italic" text-anchor="middle" fill="#3c5478" font-family='"Liberation Sans", sans-serif'>on 29 ds</text>
<path d="M450.70,47.00 L447.50,47.00 L447.50,80.40 L450.70,80.40" fill="none" stroke="#7a7a7a" stroke-width="2.3"/>
<path d="M447.50,48.20 L447.50,79.20" fill="none" stroke="#c4c4c4" stroke-width="0.8"/>
<path d="M524.80,47.00 L528.00,47.00 L528.00,80.40 L524.80,80.40" fill="none" stroke="#7a7a7a" stroke-width="2.3"/>
<path d="M528.00,48.20 L528.00,79.20" fill="none" stroke="#c4c4c4" stroke-width="0.8"/>
<text transform="translate(451.50,54.20) scale(1,1.1)" font-size="11" font-weight="bold" fill="#111" font-family='"Liberation Serif", serif'>HbO<tspan font-size="8" dy="2.5">2</tspan><tspan dy="-2.5"> – 15±4%</tspan></text>
<text transform="translate(455.00,67.30) scale(1,1.1)" font-size="11" font-weight="bold" fill="#111" font-family='"Liberation Serif", serif'>Hb – 85±6%</text>
<text transform="translate(456.00,79.90) scale(1,1.1)" font-size="11" font-weight="bold" fill="#111" font-family='"Liberation Serif", serif'>MetHb – 0%</text>
<path d="M450.20,118.00 L447.00,118.00 L447.00,151.80 L450.20,151.80" fill="none" stroke="#7a7a7a" stroke-width="2.3"/>
<path d="M447.00,119.20 L447.00,150.60" fill="none" stroke="#c4c4c4" stroke-width="0.8"/>
<path d="M532.60,118.00 L535.80,118.00 L535.80,151.80 L532.60,151.80" fill="none" stroke="#7a7a7a" stroke-width="2.3"/>
<path d="M535.80,119.20 L535.80,150.60" fill="none" stroke="#c4c4c4" stroke-width="0.8"/>
<text transform="translate(455.30,125.00) scale(1,1.1)" font-size="11" font-weight="bold" fill="#111" font-family='"Liberation Serif", serif'>HbO<tspan font-size="8" dy="2.5">2</tspan><tspan dy="-2.5"> – 55±5%</tspan></text>
<text transform="translate(458.40,137.50) scale(1,1.1)" font-size="11" font-weight="bold" fill="#111" font-family='"Liberation Serif", serif'>Hb – 20±5%</text>
<text transform="translate(451.30,150.10) scale(1,1.1)" font-size="11" font-weight="bold" fill="#111" font-family='"Liberation Serif", serif'>MetHb – 25±3%</text>
<text x="440.80" y="189.60" font-size="14" font-weight="bold" font-style="normal" text-anchor="start" fill="#000" font-family='"Liberation Sans", sans-serif' >F</text>
<text transform="translate(488.4,198.30) scale(0.965,1.04)" font-size="8.6" font-weight="bold" font-style="italic" text-anchor="middle" fill="#3c5478" font-family='"Liberation Sans", sans-serif'>Hemoglobin derivatives</text>
<text x="488" y="208.10" font-size="8.6" font-weight="bold" font-style="italic" text-anchor="middle" fill="#3c5478" font-family='"Liberation Sans", sans-serif'>on 29 ds</text>
<path d="M446.00,218.00 L442.80,218.00 L442.80,252.00 L446.00,252.00" fill="none" stroke="#7a7a7a" stroke-width="2.3"/>
<path d="M442.80,219.20 L442.80,250.80" fill="none" stroke="#c4c4c4" stroke-width="0.8"/>
<path d="M531.30,218.00 L534.50,218.00 L534.50,252.00 L531.30,252.00" fill="none" stroke="#7a7a7a" stroke-width="2.3"/>
<path d="M534.50,219.20 L534.50,250.80" fill="none" stroke="#c4c4c4" stroke-width="0.8"/>
<text transform="translate(452.80,225.20) scale(1,1.1)" font-size="11" font-weight="bold" fill="#111" font-family='"Liberation Serif", serif'>HbO<tspan font-size="8" dy="2.5">2</tspan><tspan dy="-2.5"> – 77±8%</tspan></text>
<text transform="translate(455.30,238.50) scale(1,1.1)" font-size="11" font-weight="bold" fill="#111" font-family='"Liberation Serif", serif'>Hb – 22±7%</text>
<text transform="translate(446.20,251.40) scale(1,1.1)" font-size="11" font-weight="bold" fill="#111" font-family='"Liberation Serif", serif'>MetHb – 1±0.5%</text>
<path d="M446.00,284.20 L442.80,284.20 L442.80,318.30 L446.00,318.30" fill="none" stroke="#7a7a7a" stroke-width="2.3"/>
<path d="M442.80,285.40 L442.80,317.10" fill="none" stroke="#c4c4c4" stroke-width="0.8"/>
<path d="M527.30,284.20 L530.50,284.20 L530.50,318.30 L527.30,318.30" fill="none" stroke="#7a7a7a" stroke-width="2.3"/>
<path d="M530.50,285.40 L530.50,317.10" fill="none" stroke="#c4c4c4" stroke-width="0.8"/>
<text transform="translate(454.40,292.10) scale(1,1.1)" font-size="11" font-weight="bold" fill="#111" font-family='"Liberation Serif", serif'>HbO<tspan font-size="8" dy="2.5">2</tspan><tspan dy="-2.5"> – 3±3%</tspan></text>
<text transform="translate(454.40,304.80) scale(1,1.1)" font-size="11" font-weight="bold" fill="#111" font-family='"Liberation Serif", serif'>Hb – 70±3%</text>
<text transform="translate(447.00,318.20) scale(1,1.1)" font-size="11" font-weight="bold" fill="#111" font-family='"Liberation Serif", serif'>MetHb – 27±4%</text>
<text x="9.50" y="355.00" font-size="13" font-weight="bold" font-style="normal" text-anchor="start" fill="#000" font-family='"Liberation Sans", sans-serif' >G</text>
<line x1="61.40" y1="354.70" x2="103.50" y2="354.70" stroke="#9a40c8" stroke-width="0.9" stroke-dasharray="1.8,1.4"/>
<ellipse cx="55.20" cy="354.70" rx="6.5" ry="5.1" fill="#fff" stroke="#8a2cc0" stroke-width="1.2"/>
<text x="55.20" y="357.20" font-size="7" font-weight="bold" font-style="normal" text-anchor="middle" fill="#000" font-family='"Liberation Sans", sans-serif' >C</text>
<ellipse cx="109.70" cy="354.70" rx="6.5" ry="5.1" fill="#fff" stroke="#8a2cc0" stroke-width="1.2"/>
<text x="109.70" y="357.20" font-size="7" font-weight="bold" font-style="normal" text-anchor="middle" fill="#000" font-family='"Liberation Sans", sans-serif' >O</text>
<text x="84.00" y="350.80" font-size="6.6" font-weight="bold" font-style="normal" text-anchor="middle" fill="#000" font-family='"Liberation Sans", sans-serif' >0% StS</text>
<rect x="40.60" y="378.32" width="13.20" height="51.98" fill="#f022ee"/>
<line x1="47.20" y1="386.99" x2="47.20" y2="369.66" stroke="#c010c0" stroke-width="0.8"/>
<line x1="46.20" y1="369.66" x2="48.20" y2="369.66" stroke="#c010c0" stroke-width="0.8"/>
<rect x="58.20" y="386.99" width="13.60" height="43.31" fill="#5a70f2"/>
<line x1="65.00" y1="395.65" x2="65.00" y2="378.32" stroke="#3048e0" stroke-width="0.8"/>
<line x1="64.00" y1="378.32" x2="66.00" y2="378.32" stroke="#3048e0" stroke-width="0.8"/>
<path d="M25.30,360.50 L25.30,430.30 L108.50,430.30" fill="none" stroke="#222" stroke-width="1.1"/>
<line x1="23.70" y1="430.30" x2="25.30" y2="430.30" stroke="#222" stroke-width="0.7"/>
<text transform="translate(23.00,432.20) scale(0.85,1.1)" font-size="5.4" font-weight="bold" text-anchor="end" fill="#222" font-family='"Liberation Sans", sans-serif' >0</text>
<line x1="23.70" y1="421.64" x2="25.30" y2="421.64" stroke="#222" stroke-width="0.7"/>
<text transform="translate(23.00,423.54) scale(0.85,1.1)" font-size="5.4" font-weight="bold" text-anchor="end" fill="#222" font-family='"Liberation Sans", sans-serif' >5</text>
<line x1="23.70" y1="412.98" x2="25.30" y2="412.98" stroke="#222" stroke-width="0.7"/>
<text transform="translate(23.00,414.88) scale(0.85,1.1)" font-size="5.4" font-weight="bold" text-anchor="end" fill="#222" font-family='"Liberation Sans", sans-serif' >10</text>
<line x1="23.70" y1="404.31" x2="25.30" y2="404.31" stroke="#222" stroke-width="0.7"/>
<text transform="translate(23.00,406.21) scale(0.85,1.1)" font-size="5.4" font-weight="bold" text-anchor="end" fill="#222" font-family='"Liberation Sans", sans-serif' >15</text>
<line x1="23.70" y1="395.65" x2="25.30" y2="395.65" stroke="#222" stroke-width="0.7"/>
<text transform="translate(23.00,397.55) scale(0.85,1.1)" font-size="5.4" font-weight="bold" text-anchor="end" fill="#222" font-family='"Liberation Sans", sans-serif' >20</text>
<line x1="23.70" y1="386.99" x2="25.30" y2="386.99" stroke="#222" stroke-width="0.7"/>
<text transform="translate(23.00,388.89) scale(0.85,1.1)" font-size="5.4" font-weight="bold" text-anchor="end" fill="#222" font-family='"Liberation Sans", sans-serif' >25</text>
<line x1="23.70" y1="378.32" x2="25.30" y2="378.32" stroke="#222" stroke-width="0.7"/>
<text transform="translate(23.00,380.22) scale(0.85,1.1)" font-size="5.4" font-weight="bold" text-anchor="end" fill="#222" font-family='"Liberation Sans", sans-serif' >30</text>
<line x1="23.70" y1="369.66" x2="25.30" y2="369.66" stroke="#222" stroke-width="0.7"/>
<text transform="translate(23.00,371.56) scale(0.85,1.1)" font-size="5.4" font-weight="bold" text-anchor="end" fill="#222" font-family='"Liberation Sans", sans-serif' >35</text>
<line x1="23.70" y1="361.00" x2="25.30" y2="361.00" stroke="#222" stroke-width="0.7"/>
<text transform="translate(23.00,362.90) scale(0.85,1.1)" font-size="5.4" font-weight="bold" text-anchor="end" fill="#222" font-family='"Liberation Sans", sans-serif' >40</text>
<text x="27.90" y="367.00" font-size="6.3" font-weight="bold" font-style="normal" text-anchor="start" fill="#111" font-family='"Liberation Sans", sans-serif' >0% StS</text>
<text x="27.90" y="375.00" font-size="6.3" font-weight="bold" font-style="normal" text-anchor="start" fill="#111" font-family='"Liberation Sans", sans-serif' >29 ds</text>
<text transform="translate(15.80,395.95) rotate(-90) scale(1,0.85)" font-size="6.7" font-weight="bold" text-anchor="middle" fill="#222" font-family='"Liberation Sans", sans-serif'>Hemolysis (%)</text>
<text transform="translate(35.50,437.90) scale(0.92,1.12)" font-size="7" font-weight="bold" text-anchor="start" fill="#111" font-family='"Liberation Sans", sans-serif' >Closed</text>
<text transform="translate(58.50,437.90) scale(0.92,1.12)" font-size="7" font-weight="bold" text-anchor="start" fill="#111" font-family='"Liberation Sans", sans-serif' >Open</text>
<text x="125.60" y="355.00" font-size="13" font-weight="bold" font-style="normal" text-anchor="start" fill="#000" font-family='"Liberation Sans", sans-serif' >H</text>
<line x1="175.40" y1="348.20" x2="216.60" y2="348.20" stroke="#9a40c8" stroke-width="0.9" stroke-dasharray="1.8,1.4"/>
<ellipse cx="169.20" cy="348.20" rx="6.5" ry="5.1" fill="#fff" stroke="#8a2cc0" stroke-width="1.2"/>
<text x="169.20" y="350.70" font-size="7" font-weight="bold" font-style="normal" text-anchor="middle" fill="#000" font-family='"Liberation Sans", sans-serif' >C</text>
<ellipse cx="222.80" cy="348.20" rx="6.5" ry="5.1" fill="#fff" stroke="#8a2cc0" stroke-width="1.2"/>
<text x="222.80" y="350.70" font-size="7" font-weight="bold" font-style="normal" text-anchor="middle" fill="#000" font-family='"Liberation Sans", sans-serif' >O</text>
<text x="195.30" y="358.50" font-size="6.6" font-weight="bold" font-style="normal" text-anchor="middle" fill="#000" font-family='"Liberation Sans", sans-serif' >100% StS</text>
<rect x="159.05" y="402.58" width="13.50" height="27.72" fill="#f478f4"/>
<line x1="165.80" y1="409.51" x2="165.80" y2="395.65" stroke="#d040d0" stroke-width="0.8"/>
<line x1="164.80" y1="395.65" x2="166.80" y2="395.65" stroke="#d040d0" stroke-width="0.8"/>
<rect x="176.80" y="385.25" width="13.60" height="45.05" fill="#18ecf4"/>
<line x1="183.60" y1="392.19" x2="183.60" y2="378.32" stroke="#10a8b0" stroke-width="0.8"/>
<line x1="182.60" y1="378.32" x2="184.60" y2="378.32" stroke="#10a8b0" stroke-width="0.8"/>
<path d="M143.30,360.50 L143.30,430.30 L227.30,430.30" fill="none" stroke="#222" stroke-width="1.1"/>
<line x1="141.70" y1="430.30" x2="143.30" y2="430.30" stroke="#222" stroke-width="0.7"/>
<text transform="translate(141.00,432.20) scale(0.85,1.1)" font-size="5.4" font-weight="bold" text-anchor="end" fill="#222" font-family='"Liberation Sans", sans-serif' >0</text>
<line x1="141.70" y1="421.64" x2="143.30" y2="421.64" stroke="#222" stroke-width="0.7"/>
<text transform="translate(141.00,423.54) scale(0.85,1.1)" font-size="5.4" font-weight="bold" text-anchor="end" fill="#222" font-family='"Liberation Sans", sans-serif' >5</text>
<line x1="141.70" y1="412.98" x2="143.30" y2="412.98" stroke="#222" stroke-width="0.7"/>
<text transform="translate(141.00,414.88) scale(0.85,1.1)" font-size="5.4" font-weight="bold" text-anchor="end" fill="#222" font-family='"Liberation Sans", sans-serif' >10</text>
<line x1="141.70" y1="404.31" x2="143.30" y2="404.31" stroke="#222" stroke-width="0.7"/>
<text transform="translate(141.00,406.21) scale(0.85,1.1)" font-size="5.4" font-weight="bold" text-anchor="end" fill="#222" font-family='"Liberation Sans", sans-serif' >15</text>
<line x1="141.70" y1="395.65" x2="143.30" y2="395.65" stroke="#222" stroke-width="0.7"/>
<text transform="translate(141.00,397.55) scale(0.85,1.1)" font-size="5.4" font-weight="bold" text-anchor="end" fill="#222" font-family='"Liberation Sans", sans-serif' >20</text>
<line x1="141.70" y1="386.99" x2="143.30" y2="386.99" stroke="#222" stroke-width="0.7"/>
<text transform="translate(141.00,388.89) scale(0.85,1.1)" font-size="5.4" font-weight="bold" text-anchor="end" fill="#222" font-family='"Liberation Sans", sans-serif' >25</text>
<line x1="141.70" y1="378.32" x2="143.30" y2="378.32" stroke="#222" stroke-width="0.7"/>
<text transform="translate(141.00,380.22) scale(0.85,1.1)" font-size="5.4" font-weight="bold" text-anchor="end" fill="#222" font-family='"Liberation Sans", sans-serif' >30</text>
<line x1="141.70" y1="369.66" x2="143.30" y2="369.66" stroke="#222" stroke-width="0.7"/>
<text transform="translate(141.00,371.56) scale(0.85,1.1)" font-size="5.4" font-weight="bold" text-anchor="end" fill="#222" font-family='"Liberation Sans", sans-serif' >35</text>
<line x1="141.70" y1="361.00" x2="143.30" y2="361.00" stroke="#222" stroke-width="0.7"/>
<text transform="translate(141.00,362.90) scale(0.85,1.1)" font-size="5.4" font-weight="bold" text-anchor="end" fill="#222" font-family='"Liberation Sans", sans-serif' >40</text>
<text x="145.90" y="364.50" font-size="6.3" font-weight="bold" font-style="normal" text-anchor="start" fill="#111" font-family='"Liberation Sans", sans-serif' >100% StS</text>
<text x="145.90" y="372.50" font-size="6.3" font-weight="bold" font-style="normal" text-anchor="start" fill="#111" font-family='"Liberation Sans", sans-serif' >29 ds</text>
<text transform="translate(133.80,395.95) rotate(-90) scale(1,0.85)" font-size="6.7" font-weight="bold" text-anchor="middle" fill="#222" font-family='"Liberation Sans", sans-serif'>Hemolysis (%)</text>
<text transform="translate(154.00,437.90) scale(0.92,1.12)" font-size="7" font-weight="bold" text-anchor="start" fill="#111" font-family='"Liberation Sans", sans-serif' >Closed</text>
<text transform="translate(176.20,437.90) scale(0.92,1.12)" font-size="7" font-weight="bold" text-anchor="start" fill="#111" font-family='"Liberation Sans", sans-serif' >Open</text>
<path d="M166.2,377.5 L166.2,375.4 L184.4,375.4 L184.4,377.5" fill="none" stroke="#555" stroke-width="0.5"/>
<text x="174.30" y="374.20" font-size="6" font-weight="normal" font-style="normal" text-anchor="middle" fill="#000" font-family='"Liberation Sans", sans-serif' >*</text>
<text x="246.20" y="353.60" font-size="12.2" font-weight="normal" font-style="normal" text-anchor="start" fill="#000" font-family='"Liberation Sans", sans-serif' stroke="#000" stroke-width="0.6">I</text>
<rect x="239.6" y="359.4" width="53.8" height="16" fill="#fbe4d8"/>
<text transform="translate(241.6,371.4) scale(0.86,1)" font-size="12.4" font-weight="bold" font-style="italic" fill="#000" font-family='"Liberation Sans", sans-serif'>discocyte</text>
<rect x="409" y="348.4" width="40.3" height="14.6" fill="#fbe4d8"/>
<text transform="translate(415.0,360.3) scale(0.86,1)" font-size="12.4" font-weight="bold" font-style="italic" fill="#000" font-family='"Liberation Sans", sans-serif'>ghost</text>
<polygon points="290,372 317,434 317,436.5 290,374.5" fill="#7a5068"/>
<polygon points="317,434 376,391 376,393.5 317,436.5" fill="#6a4a60"/>
<polygon points="290,372 333,347 376,391 317,434" fill="url(#gsurf)"/>
<polygon points="296,404 318,396 340,418 317,434" fill="#6a4470" opacity="0.45" filter="url(#blur2)"/>
<path d="M290.5,378.0 L318.0,360.0" stroke="#d06848" stroke-width="0.5" opacity="0.55"/>
<path d="M292.5,382.2 L320.5,364.2" stroke="#d06848" stroke-width="0.5" opacity="0.55"/>
<path d="M294.5,386.4 L323.0,368.4" stroke="#d06848" stroke-width="0.5" opacity="0.55"/>
<path d="M296.5,390.6 L325.5,372.6" stroke="#d06848" stroke-width="0.5" opacity="0.55"/>
<path d="M298.5,394.8 L328.0,376.8" stroke="#d06848" stroke-width="0.5" opacity="0.55"/>
<path d="M300.5,399.0 L330.5,381.0" stroke="#d06848" stroke-width="0.5" opacity="0.55"/>
<path d="M302.5,403.2 L333.0,385.2" stroke="#d06848" stroke-width="0.5" opacity="0.55"/>
<path d="M322,357 Q326,346 333.5,340.5 Q340,339 339.5,346 Q338,353 334,358 Z" fill="url(#gspike)"/>
<path d="M352,368.5 Q356,365.5 363,366.3 Q368,367.5 371,377 L374,389.5 Q372,395 366,397.5 L357,397 Q352.5,392 351.8,384 Z" fill="url(#gcellR)"/>
<path d="M352,368.5 Q356,365.5 363,366.3" stroke="#b86838" stroke-width="0.6" fill="none"/>
<path d="M312,425 Q316,417 324,419 Q330,423 329,428 L321,433.5 L315.5,432.5 Z" fill="url(#gcellB)"/>
<ellipse cx="329" cy="383.6" rx="25.4" ry="25" fill="url(#gdonut)"/>
<ellipse cx="329" cy="383.6" rx="25.4" ry="25" fill="url(#gshade)"/>
<ellipse cx="331.5" cy="385.5" rx="12" ry="11.5" fill="url(#gbowl)" filter="url(#blur2)"/>
<path d="M327.5,378 Q330,384.5 334.5,390" stroke="#d8662e" stroke-width="1.6" fill="none" opacity="0.55" filter="url(#blur1)"/>
<rect x="379" y="342.3" width="3.2" height="39" fill="url(#gcbar)"/>
<text x="377.60" y="346.50" font-size="5.0" font-weight="normal" font-style="normal" text-anchor="end" fill="#1a1a1a" font-family='"Liberation Sans", sans-serif' >nm</text>
<text x="377.60" y="358.20" font-size="5.0" font-weight="normal" font-style="normal" text-anchor="end" fill="#1a1a1a" font-family='"Liberation Sans", sans-serif' >1000</text>
<text x="377.60" y="369.20" font-size="5.0" font-weight="normal" font-style="normal" text-anchor="end" fill="#1a1a1a" font-family='"Liberation Sans", sans-serif' >500</text>
<text x="377.60" y="383.00" font-size="5.0" font-weight="normal" font-style="normal" text-anchor="end" fill="#1a1a1a" font-family='"Liberation Sans", sans-serif' >0</text>
<text x="294.50" y="409.50" font-size="5.0" font-weight="normal" font-style="normal" text-anchor="middle" fill="#1a1a1a" font-family='"Liberation Sans", sans-serif' >4000</text>
<text x="302.50" y="421.50" font-size="5.0" font-weight="normal" font-style="normal" text-anchor="middle" fill="#1a1a1a" font-family='"Liberation Sans", sans-serif' >2000</text>
<text x="374.50" y="402.50" font-size="5.0" font-weight="normal" font-style="normal" text-anchor="middle" fill="#1a1a1a" font-family='"Liberation Sans", sans-serif' >8000</text>
<text x="365.00" y="410.80" font-size="5.0" font-weight="normal" font-style="normal" text-anchor="middle" fill="#1a1a1a" font-family='"Liberation Sans", sans-serif' >6000</text>
<text x="355.50" y="418.50" font-size="5.0" font-weight="normal" font-style="normal" text-anchor="middle" fill="#1a1a1a" font-family='"Liberation Sans", sans-serif' >4000</text>
<text x="339.50" y="426.50" font-size="5.0" font-weight="normal" font-style="normal" text-anchor="middle" fill="#1a1a1a" font-family='"Liberation Sans", sans-serif' >2000</text>
<text x="371.50" y="397.50" font-size="5.0" font-weight="normal" font-style="normal" text-anchor="middle" fill="#1a1a1a" font-family='"Liberation Sans", sans-serif' >nm</text>
<line x1="290.0" y1="375.0" x2="288.4" y2="375.8" stroke="#333" stroke-width="0.5"/>
<line x1="295.4" y1="387.2" x2="293.8" y2="388.0" stroke="#333" stroke-width="0.5"/>
<line x1="300.8" y1="399.4" x2="299.2" y2="400.2" stroke="#333" stroke-width="0.5"/>
<line x1="306.2" y1="411.6" x2="304.6" y2="412.4" stroke="#333" stroke-width="0.5"/>
<line x1="311.6" y1="423.8" x2="310.0" y2="424.6" stroke="#333" stroke-width="0.5"/>
<line x1="317.0" y1="436.0" x2="315.4" y2="436.8" stroke="#333" stroke-width="0.5"/>
<path d="M378.5,410.6 L424,410.6 M416.5,405.8 L424.8,410.6 L416.5,415.4" fill="none" stroke="#727272" stroke-width="2.2" stroke-linejoin="round" stroke-linecap="round"/>
<polygon points="434.8,376.5 484.2,340.7 529.4,386.6 487.6,432.9" fill="url(#gsurf2)"/>
<polygon points="434.8,376.5 487.6,432.9 487.6,435 434.8,378.5" fill="#6a3a48"/>
<path d="M437.0,379.0 L455.0,366.0" stroke="#c86048" stroke-width="0.5" opacity="0.45"/>
<path d="M441.2,383.5 L459.2,370.5" stroke="#c86048" stroke-width="0.5" opacity="0.45"/>
<path d="M445.4,388.0 L463.4,375.0" stroke="#c86048" stroke-width="0.5" opacity="0.45"/>
<path d="M449.6,392.5 L467.6,379.5" stroke="#c86048" stroke-width="0.5" opacity="0.45"/>
<path d="M453.8,397.0 L471.8,384.0" stroke="#c86048" stroke-width="0.5" opacity="0.45"/>
<path d="M458.0,401.5 L476.0,388.5" stroke="#c86048" stroke-width="0.5" opacity="0.45"/>
<path d="M462.2,406.0 L480.2,393.0" stroke="#c86048" stroke-width="0.5" opacity="0.45"/>
<path d="M466.4,410.5 L484.4,397.5" stroke="#c86048" stroke-width="0.5" opacity="0.45"/>
<polygon points="487.6,432.9 529.4,386.6 529.4,388.6 487.6,435" fill="#6a3a48"/>
<ellipse cx="484.2" cy="384" rx="33.5" ry="31.2" fill="#a04830" opacity="0.6"/>
<ellipse cx="483.7" cy="383.6" rx="33.2" ry="30.8" fill="url(#gghost)"/>
<ellipse cx="483.7" cy="383.6" rx="33.2" ry="30.8" fill="#000" filter="url(#speckD)"/>
<ellipse cx="485" cy="382" rx="30" ry="28" fill="url(#gfade)" filter="url(#speckL)"/>
<rect x="536.2" y="342.2" width="3.2" height="36.2" fill="url(#gcbar)"/>
<text x="534.60" y="346.50" font-size="5.0" font-weight="normal" font-style="normal" text-anchor="end" fill="#1a1a1a" font-family='"Liberation Sans", sans-serif' >nm</text>
<text x="534.60" y="358.20" font-size="5.0" font-weight="normal" font-style="normal" text-anchor="end" fill="#1a1a1a" font-family='"Liberation Sans", sans-serif' >80</text>
<text x="534.60" y="368.70" font-size="5.0" font-weight="normal" font-style="normal" text-anchor="end" fill="#1a1a1a" font-family='"Liberation Sans", sans-serif' >40</text>
<text x="534.60" y="378.70" font-size="5.0" font-weight="normal" font-style="normal" text-anchor="end" fill="#1a1a1a" font-family='"Liberation Sans", sans-serif' >0</text>
<text x="442.40" y="398.80" font-size="5.0" font-weight="normal" font-style="normal" text-anchor="middle" fill="#1a1a1a" font-family='"Liberation Sans", sans-serif' >6000</text>
<text x="453.70" y="411.90" font-size="5.0" font-weight="normal" font-style="normal" text-anchor="middle" fill="#1a1a1a" font-family='"Liberation Sans", sans-serif' >4000</text>
<text x="466.10" y="425.00" font-size="5.0" font-weight="normal" font-style="normal" text-anchor="middle" fill="#1a1a1a" font-family='"Liberation Sans", sans-serif' >2000</text>
<text x="536.20" y="391.00" font-size="5.0" font-weight="normal" font-style="normal" text-anchor="middle" fill="#1a1a1a" font-family='"Liberation Sans", sans-serif' >nm</text>
<text x="529.40" y="400.60" font-size="5.0" font-weight="normal" font-style="normal" text-anchor="middle" fill="#1a1a1a" font-family='"Liberation Sans", sans-serif' >6000</text>
<text x="519.20" y="412.40" font-size="5.0" font-weight="normal" font-style="normal" text-anchor="middle" fill="#1a1a1a" font-family='"Liberation Sans", sans-serif' >4000</text>
<text x="508.00" y="425.00" font-size="5.0" font-weight="normal" font-style="normal" text-anchor="middle" fill="#1a1a1a" font-family='"Liberation Sans", sans-serif' >2000</text>
</svg>
</div></body></html>
